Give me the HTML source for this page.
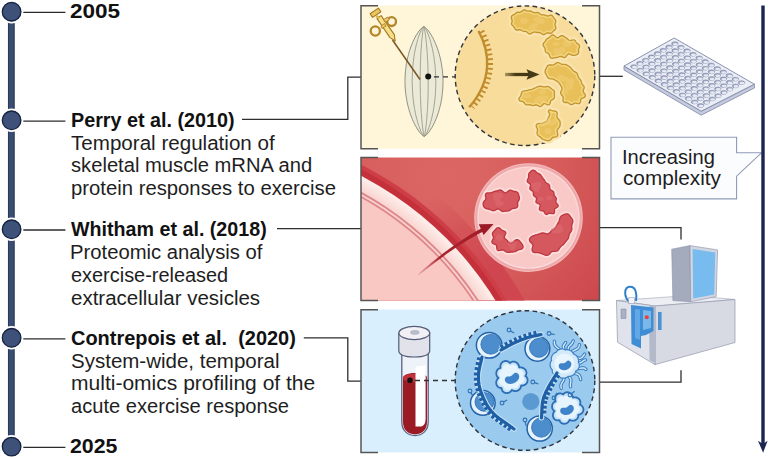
<!DOCTYPE html>
<html><head><meta charset="utf-8">
<style>
html,body{margin:0;padding:0;background:#fff;}
body{width:768px;height:459px;position:relative;overflow:hidden;font-family:"Liberation Sans",sans-serif;color:#1a1a1a;}
svg{position:absolute;left:0;top:0;}
.t{position:absolute;white-space:pre;transform-origin:0 0;font-size:19px;line-height:19px;color:#1e1e1e;}
.b{font-weight:bold;font-size:19.4px;color:#111;}
</style></head>
<body>
<svg width="768" height="459" viewBox="0 0 768 459">
<defs>
  <clipPath id="cpR"><rect x="361" y="157.5" width="238.5" height="143"/></clipPath>
  <clipPath id="cpB"><rect x="361" y="309.5" width="238.5" height="143"/></clipPath>
  <linearGradient id="gRed" x1="0" y1="0" x2="1" y2="0.3">
    <stop offset="0" stop-color="#dc6a6d"/>
    <stop offset="0.55" stop-color="#d85f64"/>
    <stop offset="1" stop-color="#c9424b"/>
  </linearGradient>
  <radialGradient id="gRedBg" gradientUnits="userSpaceOnUse" cx="450" cy="175" r="200">
    <stop offset="0" stop-color="#db6764"/>
    <stop offset="0.5" stop-color="#d75e5d"/>
    <stop offset="1" stop-color="#cc464b"/>
  </radialGradient>
  <linearGradient id="gRedHalo2" gradientUnits="userSpaceOnUse" x1="430" y1="200" x2="490" y2="270">
    <stop offset="0" stop-color="#cf4650" stop-opacity="0"/>
    <stop offset="1" stop-color="#cf4650" stop-opacity="1"/>
  </linearGradient>
  <radialGradient id="gLightBand" gradientUnits="userSpaceOnUse" cx="203.5" cy="480.2" r="342.8">
    <stop offset="0.959" stop-color="#f9d4d0"/>
    <stop offset="0.985" stop-color="#fce6e2"/>
    <stop offset="1" stop-color="#fdf0ec"/>
  </radialGradient>
  <radialGradient id="gRedHalo" gradientUnits="userSpaceOnUse" cx="203.5" cy="480.2" r="420">
    <stop offset="0.83" stop-color="#cc4049"/>
    <stop offset="0.9" stop-color="#d6585f" stop-opacity="0.9"/>
    <stop offset="1" stop-color="#dc666b" stop-opacity="0"/>
  </radialGradient>
  <linearGradient id="gArrowY" gradientUnits="userSpaceOnUse" x1="505" y1="0" x2="530" y2="0">
    <stop offset="0" stop-color="#6a5a2a" stop-opacity="0.55"/>
    <stop offset="0.4" stop-color="#4a3d18"/>
    <stop offset="1" stop-color="#3f3414"/>
  </linearGradient>
  <linearGradient id="gArrowR" gradientUnits="userSpaceOnUse" x1="417" y1="276" x2="485" y2="228">
    <stop offset="0" stop-color="#c0434b" stop-opacity="0.2"/>
    <stop offset="0.35" stop-color="#a9242e"/>
    <stop offset="1" stop-color="#a01d28"/>
  </linearGradient>
</defs>

<!-- ===== timeline ===== -->
<g id="timeline">
  <rect x="8.4" y="14" width="5.8" height="430" fill="#3a4e75" stroke="#1c2a4a" stroke-width="0.9"/>
  <g fill="#3e5279" stroke="#fff" stroke-width="2.2">
    <circle cx="11.6" cy="11.7" r="10.6"/>
    <circle cx="11.6" cy="120.3" r="10.6"/>
    <circle cx="11.6" cy="229.3" r="10.6"/>
    <circle cx="11.6" cy="337.8" r="10.6"/>
    <circle cx="11.6" cy="446.6" r="10.6"/>
  </g>
  <g fill="none" stroke="#16223f" stroke-width="1.3">
    <circle cx="11.6" cy="11.7" r="9.3"/>
    <circle cx="11.6" cy="120.3" r="9.3"/>
    <circle cx="11.6" cy="229.3" r="9.3"/>
    <circle cx="11.6" cy="337.8" r="9.3"/>
    <circle cx="11.6" cy="446.6" r="9.3"/>
  </g>
  <g stroke="#2b2b2b" stroke-width="1.3">
    <line x1="23.3" y1="12.4" x2="65.4" y2="12.4"/>
    <line x1="23.3" y1="121.2" x2="65.4" y2="121.2"/>
    <line x1="23.3" y1="230" x2="65.4" y2="230"/>
    <line x1="23.3" y1="338.8" x2="65.4" y2="338.8"/>
    <line x1="23.3" y1="447.3" x2="65.4" y2="447.3"/>
  </g>
</g>

<!-- ===== connectors ===== -->
<g fill="none" stroke="#2e2e2e" stroke-width="1.3">
  <polyline points="242,119.4 347.8,119.4 347.8,77.2 361,77.2"/>
  <polyline points="277,228.7 361,228.7"/>
  <polyline points="303.8,337.9 347.8,337.9 347.8,381.2 361,381.2"/>
  <polyline points="599.5,76.3 622.8,76.3"/>
  <polyline points="599.5,227.6 681,227.6 681,239.5"/>
  <polyline points="599.5,382.2 681,382.2 681,370.3"/>
</g>

<!-- ===== panel backgrounds ===== -->
<rect x="361" y="5.5" width="238.5" height="143.2" fill="#fff5d9"/>
<rect x="361" y="157.5" width="238.5" height="143" fill="url(#gRedBg)"/>
<rect x="361" y="309.5" width="238.5" height="143" fill="#d9effd"/>

<!-- ===== RED panel content ===== -->
<g clip-path="url(#cpR)">
  <circle cx="203.5" cy="480.2" r="368" fill="url(#gRedHalo2)"/>
  <circle cx="203.5" cy="480.2" r="352.5" fill="#ce3e47"/>
  <circle cx="203.5" cy="480.2" r="348.5" fill="#c4313b"/>
  <circle cx="203.5" cy="480.2" r="342.8" fill="url(#gLightBand)"/>
  <circle cx="203.5" cy="480.2" r="328.8" fill="#de878a"/>
  <circle cx="203.5" cy="480.2" r="327.0" fill="#f9d2ce"/>
  <circle cx="203.5" cy="480.2" r="325.2" fill="#de878a"/>
  <circle cx="203.5" cy="480.2" r="323.4" fill="#f9c8c3"/>
  <!-- vesicle circle -->
  <circle cx="528.5" cy="217.6" r="54.3" fill="#f4bcbd"/>
  <circle cx="528.5" cy="217.6" r="53.3" fill="#efa8aa"/>
  <circle cx="528.5" cy="217.6" r="51.2" fill="#fad8d8"/>
  <circle cx="528.5" cy="217.6" r="49.8" fill="#f8c9c7"/>
  <!-- blobs -->
  <!--RB--><g fill="none" stroke="#fcdedb" stroke-width="5" stroke-linejoin="round">
<path d="M483.2,202.9 L483.9,201.5 L485.1,200.1 L485.9,198.8 L485.8,197.3 L485.3,195.6 L485.7,193.8 L487.2,192.9 L488.9,192.9 L490.5,192.9 L492.0,192.5 L493.3,191.8 L494.7,191.3 L496.2,191.0 L497.6,190.7 L499.1,190.1 L500.7,190.0 L502.1,190.7 L503.3,191.9 L504.8,192.8 L506.4,192.6 L507.8,191.4 L509.0,190.4 L510.5,190.1 L512.1,190.6 L513.5,191.3 L514.9,191.5 L516.4,191.7 L517.7,192.5 L518.4,193.9 L518.8,195.3 L519.3,196.7 L519.5,198.3 L519.1,199.8 L518.3,201.1 L517.6,202.5 L517.6,204.0 L517.8,205.7 L517.2,207.3 L515.7,208.1 L514.0,208.3 L512.5,208.5 L511.3,209.3 L510.0,210.3 L508.6,210.8 L507.1,211.0 L505.6,211.1 L504.1,211.4 L502.6,211.5 L501.1,210.8 L499.9,209.7 L498.5,208.9 L496.9,209.1 L495.3,210.1 L494.0,210.8 L492.5,210.7 L490.9,210.0 L489.5,209.3 L488.2,209.0 L486.7,208.8 L485.3,208.2 L484.2,207.3 L483.4,206.0 L483.1,204.4Z"/>
<path d="M528.6,177.1 L528.6,175.6 L528.7,174.1 L529.4,172.8 L530.5,171.7 L531.6,170.7 L533.1,170.2 L534.7,170.6 L535.9,171.7 L536.9,172.8 L538.2,173.4 L539.6,174.1 L540.8,175.0 L541.6,176.3 L542.4,177.6 L543.4,178.8 L544.3,180.0 L545.0,181.3 L545.8,182.6 L547.1,183.5 L548.6,184.2 L549.5,185.4 L549.7,187.1 L549.8,188.8 L550.8,190.0 L552.3,190.8 L553.6,191.8 L554.0,193.3 L554.1,194.9 L554.8,196.2 L555.9,197.4 L556.4,198.8 L556.0,200.5 L555.8,202.0 L556.7,203.4 L558.0,204.9 L558.1,206.5 L556.5,207.8 L554.8,208.7 L554.4,209.9 L554.6,212.0 L553.8,213.6 L552.0,213.7 L550.2,213.1 L548.9,213.3 L547.4,214.3 L545.8,214.3 L544.7,212.9 L544.0,211.4 L542.6,210.9 L540.5,210.6 L539.3,209.5 L539.6,207.6 L540.3,205.5 L539.6,204.2 L537.6,203.5 L536.0,202.5 L536.0,200.9 L536.6,199.0 L536.3,197.5 L534.8,196.6 L533.6,195.5 L533.3,194.0 L533.4,192.3 L532.5,191.0 L530.9,190.1 L529.8,189.0 L530.0,187.2 L530.6,185.4 L530.2,184.0 L528.7,182.9 L527.3,181.7 L527.3,180.1 L528.1,178.5Z"/>
<path d="M492.3,233.9 L492.7,232.4 L493.9,231.2 L494.9,230.3 L495.6,229.2 L496.8,228.1 L498.4,227.6 L499.9,228.2 L501.1,229.5 L502.2,230.4 L503.6,230.8 L505.2,231.5 L505.9,233.0 L505.3,234.6 L504.5,236.0 L504.3,237.6 L505.3,239.0 L506.6,239.9 L507.5,240.8 L508.4,242.0 L509.8,242.9 L511.4,243.1 L512.9,242.4 L514.1,241.3 L515.2,240.2 L516.7,239.6 L518.3,239.8 L519.5,240.9 L520.4,242.0 L521.2,243.0 L522.1,244.1 L522.9,245.5 L523.1,247.2 L522.3,248.7 L520.7,249.4 L519.1,249.6 L517.7,250.1 L516.5,250.9 L515.1,251.6 L513.7,251.9 L512.2,252.0 L510.7,252.0 L509.2,252.3 L507.6,252.4 L506.2,252.0 L504.8,250.9 L503.6,250.0 L502.1,249.9 L500.3,250.4 L498.4,250.7 L497.1,249.7 L496.7,247.7 L496.6,245.8 L495.9,244.7 L494.2,244.1 L492.4,243.2 L491.8,241.7 L492.4,240.0 L493.3,238.5 L493.4,237.0 L492.8,235.5Z"/>
<path d="M532.2,243.7 L530.8,242.5 L529.7,241.1 L529.4,239.3 L530.2,237.7 L531.6,236.6 L533.0,235.9 L534.4,235.4 L535.7,234.9 L537.0,234.6 L538.4,234.2 L539.9,233.7 L541.4,233.1 L542.8,232.9 L544.3,233.2 L546.0,233.8 L547.6,234.0 L549.1,233.3 L550.2,232.1 L551.2,230.9 L552.4,230.0 L553.7,229.2 L554.9,228.3 L555.8,227.1 L556.5,225.8 L557.2,224.5 L558.0,223.1 L558.8,221.8 L559.3,220.5 L559.6,219.0 L560.1,217.5 L561.0,216.2 L562.3,215.3 L563.8,214.7 L565.1,214.2 L566.5,213.8 L568.0,213.9 L569.2,214.9 L570.1,216.1 L570.9,217.3 L571.9,218.5 L572.7,219.9 L572.9,221.4 L572.5,223.0 L572.0,224.4 L571.7,225.9 L571.7,227.4 L571.9,229.0 L571.6,230.5 L570.8,231.9 L569.9,233.1 L569.2,234.5 L568.9,235.9 L568.6,237.5 L568.0,238.9 L567.0,240.1 L566.0,241.2 L565.1,242.4 L564.2,243.6 L563.2,244.7 L562.0,245.6 L560.8,246.6 L559.8,247.7 L559.0,249.2 L558.1,250.5 L556.7,251.2 L555.0,251.3 L553.2,251.3 L551.8,251.6 L550.7,252.6 L549.6,254.0 L548.2,255.1 L546.7,255.4 L545.1,255.1 L543.6,254.5 L542.1,253.9 L540.7,253.3 L539.3,252.9 L537.9,252.6 L536.3,252.6 L534.5,252.6 L532.8,251.8 L532.0,250.3 L532.2,248.4 L532.8,246.6 L532.9,245.0Z"/>
</g>
<g fill="#d6585f" stroke="#bf3640" stroke-width="1.3" stroke-linejoin="round">
<path d="M483.2,202.9 L483.9,201.5 L485.1,200.1 L485.9,198.8 L485.8,197.3 L485.3,195.6 L485.7,193.8 L487.2,192.9 L488.9,192.9 L490.5,192.9 L492.0,192.5 L493.3,191.8 L494.7,191.3 L496.2,191.0 L497.6,190.7 L499.1,190.1 L500.7,190.0 L502.1,190.7 L503.3,191.9 L504.8,192.8 L506.4,192.6 L507.8,191.4 L509.0,190.4 L510.5,190.1 L512.1,190.6 L513.5,191.3 L514.9,191.5 L516.4,191.7 L517.7,192.5 L518.4,193.9 L518.8,195.3 L519.3,196.7 L519.5,198.3 L519.1,199.8 L518.3,201.1 L517.6,202.5 L517.6,204.0 L517.8,205.7 L517.2,207.3 L515.7,208.1 L514.0,208.3 L512.5,208.5 L511.3,209.3 L510.0,210.3 L508.6,210.8 L507.1,211.0 L505.6,211.1 L504.1,211.4 L502.6,211.5 L501.1,210.8 L499.9,209.7 L498.5,208.9 L496.9,209.1 L495.3,210.1 L494.0,210.8 L492.5,210.7 L490.9,210.0 L489.5,209.3 L488.2,209.0 L486.7,208.8 L485.3,208.2 L484.2,207.3 L483.4,206.0 L483.1,204.4Z"/>
<path d="M528.6,177.1 L528.6,175.6 L528.7,174.1 L529.4,172.8 L530.5,171.7 L531.6,170.7 L533.1,170.2 L534.7,170.6 L535.9,171.7 L536.9,172.8 L538.2,173.4 L539.6,174.1 L540.8,175.0 L541.6,176.3 L542.4,177.6 L543.4,178.8 L544.3,180.0 L545.0,181.3 L545.8,182.6 L547.1,183.5 L548.6,184.2 L549.5,185.4 L549.7,187.1 L549.8,188.8 L550.8,190.0 L552.3,190.8 L553.6,191.8 L554.0,193.3 L554.1,194.9 L554.8,196.2 L555.9,197.4 L556.4,198.8 L556.0,200.5 L555.8,202.0 L556.7,203.4 L558.0,204.9 L558.1,206.5 L556.5,207.8 L554.8,208.7 L554.4,209.9 L554.6,212.0 L553.8,213.6 L552.0,213.7 L550.2,213.1 L548.9,213.3 L547.4,214.3 L545.8,214.3 L544.7,212.9 L544.0,211.4 L542.6,210.9 L540.5,210.6 L539.3,209.5 L539.6,207.6 L540.3,205.5 L539.6,204.2 L537.6,203.5 L536.0,202.5 L536.0,200.9 L536.6,199.0 L536.3,197.5 L534.8,196.6 L533.6,195.5 L533.3,194.0 L533.4,192.3 L532.5,191.0 L530.9,190.1 L529.8,189.0 L530.0,187.2 L530.6,185.4 L530.2,184.0 L528.7,182.9 L527.3,181.7 L527.3,180.1 L528.1,178.5Z"/>
<path d="M492.3,233.9 L492.7,232.4 L493.9,231.2 L494.9,230.3 L495.6,229.2 L496.8,228.1 L498.4,227.6 L499.9,228.2 L501.1,229.5 L502.2,230.4 L503.6,230.8 L505.2,231.5 L505.9,233.0 L505.3,234.6 L504.5,236.0 L504.3,237.6 L505.3,239.0 L506.6,239.9 L507.5,240.8 L508.4,242.0 L509.8,242.9 L511.4,243.1 L512.9,242.4 L514.1,241.3 L515.2,240.2 L516.7,239.6 L518.3,239.8 L519.5,240.9 L520.4,242.0 L521.2,243.0 L522.1,244.1 L522.9,245.5 L523.1,247.2 L522.3,248.7 L520.7,249.4 L519.1,249.6 L517.7,250.1 L516.5,250.9 L515.1,251.6 L513.7,251.9 L512.2,252.0 L510.7,252.0 L509.2,252.3 L507.6,252.4 L506.2,252.0 L504.8,250.9 L503.6,250.0 L502.1,249.9 L500.3,250.4 L498.4,250.7 L497.1,249.7 L496.7,247.7 L496.6,245.8 L495.9,244.7 L494.2,244.1 L492.4,243.2 L491.8,241.7 L492.4,240.0 L493.3,238.5 L493.4,237.0 L492.8,235.5Z"/>
<path d="M532.2,243.7 L530.8,242.5 L529.7,241.1 L529.4,239.3 L530.2,237.7 L531.6,236.6 L533.0,235.9 L534.4,235.4 L535.7,234.9 L537.0,234.6 L538.4,234.2 L539.9,233.7 L541.4,233.1 L542.8,232.9 L544.3,233.2 L546.0,233.8 L547.6,234.0 L549.1,233.3 L550.2,232.1 L551.2,230.9 L552.4,230.0 L553.7,229.2 L554.9,228.3 L555.8,227.1 L556.5,225.8 L557.2,224.5 L558.0,223.1 L558.8,221.8 L559.3,220.5 L559.6,219.0 L560.1,217.5 L561.0,216.2 L562.3,215.3 L563.8,214.7 L565.1,214.2 L566.5,213.8 L568.0,213.9 L569.2,214.9 L570.1,216.1 L570.9,217.3 L571.9,218.5 L572.7,219.9 L572.9,221.4 L572.5,223.0 L572.0,224.4 L571.7,225.9 L571.7,227.4 L571.9,229.0 L571.6,230.5 L570.8,231.9 L569.9,233.1 L569.2,234.5 L568.9,235.9 L568.6,237.5 L568.0,238.9 L567.0,240.1 L566.0,241.2 L565.1,242.4 L564.2,243.6 L563.2,244.7 L562.0,245.6 L560.8,246.6 L559.8,247.7 L559.0,249.2 L558.1,250.5 L556.7,251.2 L555.0,251.3 L553.2,251.3 L551.8,251.6 L550.7,252.6 L549.6,254.0 L548.2,255.1 L546.7,255.4 L545.1,255.1 L543.6,254.5 L542.1,253.9 L540.7,253.3 L539.3,252.9 L537.9,252.6 L536.3,252.6 L534.5,252.6 L532.8,251.8 L532.0,250.3 L532.2,248.4 L532.8,246.6 L532.9,245.0Z"/>
</g>
<g fill="#e47880" opacity="0.35"><ellipse cx="499.4" cy="203.6" rx="4.1" ry="2.9"/><ellipse cx="496.9" cy="199.0" rx="3.4" ry="2.7"/><ellipse cx="500.1" cy="195.5" rx="2.7" ry="2.6"/><ellipse cx="497.2" cy="196.9" rx="3.4" ry="2.9"/><ellipse cx="495.8" cy="195.6" rx="3.1" ry="3.0"/><ellipse cx="540.5" cy="199.0" rx="3.1" ry="2.0"/><ellipse cx="538.1" cy="184.7" rx="3.1" ry="3.3"/><ellipse cx="536.1" cy="188.5" rx="3.4" ry="3.2"/><ellipse cx="549.4" cy="198.1" rx="3.2" ry="2.1"/><ellipse cx="535.2" cy="184.9" rx="4.4" ry="2.3"/><ellipse cx="512.2" cy="243.7" rx="4.0" ry="3.1"/><ellipse cx="511.8" cy="243.6" rx="4.2" ry="3.0"/><ellipse cx="499.4" cy="237.4" rx="3.4" ry="3.1"/><ellipse cx="512.5" cy="246.8" rx="2.7" ry="3.3"/><ellipse cx="513.2" cy="244.2" rx="2.8" ry="3.0"/><ellipse cx="554.8" cy="229.6" rx="4.2" ry="2.4"/><ellipse cx="558.6" cy="226.7" rx="3.7" ry="2.3"/><ellipse cx="558.7" cy="229.9" rx="4.0" ry="3.1"/><ellipse cx="554.5" cy="230.4" rx="2.9" ry="3.3"/><ellipse cx="558.6" cy="230.0" rx="4.4" ry="2.9"/></g><!--/RB-->
  <!-- arrow -->
  <path d="M418.7,275.2 L421.1,273.3 L423.5,271.5 L425.8,269.6 L428.2,267.8 L430.5,266.0 L432.8,264.2 L435.1,262.5 L437.4,260.7 L439.7,259.0 L441.9,257.4 L444.2,255.8 L446.4,254.1 L448.7,252.6 L450.9,251.0 L453.1,249.5 L455.3,248.0 L457.5,246.6 L459.7,245.1 L461.9,243.7 L464.1,242.4 L466.3,241.0 L468.4,239.7 L470.6,238.4 L472.7,237.2 L474.9,236.0 L477.0,234.8 L479.1,233.6 L481.2,232.5 L483.4,231.4 L481.6,228.2 L479.5,229.4 L477.4,230.6 L475.3,231.8 L473.2,233.0 L471.0,234.3 L468.9,235.6 L466.8,237.0 L464.6,238.4 L462.4,239.8 L460.3,241.2 L458.1,242.7 L455.9,244.2 L453.7,245.7 L451.5,247.2 L449.3,248.8 L447.1,250.5 L444.9,252.1 L442.7,253.8 L440.5,255.5 L438.3,257.2 L436.0,259.0 L433.8,260.8 L431.5,262.6 L429.3,264.5 L427.0,266.4 L424.8,268.3 L422.5,270.3 L420.3,272.3 L418.1,274.4Z" fill="url(#gArrowR)"/>
  <path d="M493.5,224 L478.8,224.3 L483.6,235 Z" fill="#9c1a25"/>
</g>

<!-- ===== YELLOW panel content ===== -->
<g id="yellow">
  <!-- muscle spindle -->
  <path d="M423.8,26.5 L421.3,28.4 L419.7,30.2 L418.3,32.1 L417.1,34.0 L415.9,35.8 L414.9,37.7 L414.0,39.6 L413.1,41.4 L412.3,43.3 L411.5,45.1 L410.8,47.0 L410.2,48.9 L409.5,50.7 L409.0,52.6 L408.5,54.5 L408.0,56.3 L407.5,58.2 L407.1,60.1 L406.8,61.9 L406.4,63.8 L406.1,65.7 L405.9,67.5 L405.7,69.4 L405.5,71.2 L405.3,73.1 L405.2,75.0 L405.1,76.8 L405.0,78.7 L405.0,80.6 L405.0,82.4 L405.0,84.3 L405.1,86.2 L405.2,88.0 L405.4,89.9 L405.5,91.8 L405.7,93.6 L406.0,95.5 L406.3,97.3 L406.6,99.2 L406.9,101.1 L407.3,102.9 L407.7,104.8 L408.2,106.7 L408.7,108.5 L409.2,110.4 L409.8,112.3 L410.4,114.1 L411.1,116.0 L411.8,117.9 L412.6,119.7 L413.4,121.6 L414.3,123.4 L415.2,125.3 L416.3,127.2 L417.4,129.0 L418.6,130.9 L420.0,132.8 L421.7,134.6 L424.2,136.5 L424.2,136.5 L426.7,134.6 L428.3,132.8 L429.7,130.9 L430.9,129.0 L432.1,127.2 L433.1,125.3 L434.0,123.4 L434.9,121.6 L435.7,119.7 L436.5,117.9 L437.2,116.0 L437.8,114.1 L438.5,112.3 L439.0,110.4 L439.5,108.5 L440.0,106.7 L440.5,104.8 L440.9,102.9 L441.2,101.1 L441.6,99.2 L441.9,97.3 L442.1,95.5 L442.3,93.6 L442.5,91.8 L442.7,89.9 L442.8,88.0 L442.9,86.2 L443.0,84.3 L443.0,82.4 L443.0,80.6 L443.0,78.7 L442.9,76.8 L442.8,75.0 L442.6,73.1 L442.5,71.2 L442.3,69.4 L442.0,67.5 L441.7,65.7 L441.4,63.8 L441.1,61.9 L440.7,60.1 L440.3,58.2 L439.8,56.3 L439.3,54.5 L438.8,52.6 L438.2,50.7 L437.6,48.9 L436.9,47.0 L436.2,45.1 L435.4,43.3 L434.6,41.4 L433.7,39.6 L432.8,37.7 L431.7,35.8 L430.6,34.0 L429.4,32.1 L428.0,30.2 L426.3,28.4 L423.8,26.5Z" fill="#ebe9d8" stroke="#8f8f7c" stroke-width="1"/>
  <path d="M423.8,26.5 L422.3,28.4 L421.2,30.2 L420.4,32.1 L419.6,34.0 L418.9,35.8 L418.3,37.7 L417.7,39.6 L417.2,41.4 L416.7,43.3 L416.2,45.1 L415.8,47.0 L415.4,48.9 L415.0,50.7 L414.6,52.6 L414.3,54.5 L414.0,56.3 L413.8,58.2 L413.5,60.1 L413.3,61.9 L413.1,63.8 L412.9,65.7 L412.7,67.5 L412.6,69.4 L412.5,71.2 L412.4,73.1 L412.3,75.0 L412.3,76.8 L412.2,78.7 L412.2,80.6 L412.2,82.4 L412.3,84.3 L412.3,86.2 L412.4,88.0 L412.5,89.9 L412.6,91.8 L412.7,93.6 L412.8,95.5 L413.0,97.3 L413.2,99.2 L413.4,101.1 L413.7,102.9 L413.9,104.8 L414.2,106.7 L414.5,108.5 L414.9,110.4 L415.2,112.3 L415.6,114.1 L416.0,116.0 L416.5,117.9 L417.0,119.7 L417.5,121.6 L418.0,123.4 L418.6,125.3 L419.3,127.2 L420.0,129.0 L420.7,130.9 L421.6,132.8 L422.6,134.6 L424.2,136.5 M423.8,26.5 L423.3,28.4 L423.0,30.2 L422.7,32.1 L422.5,34.0 L422.3,35.8 L422.1,37.7 L421.9,39.6 L421.7,41.4 L421.5,43.3 L421.4,45.1 L421.3,47.0 L421.1,48.9 L421.0,50.7 L420.9,52.6 L420.8,54.5 L420.7,56.3 L420.6,58.2 L420.6,60.1 L420.5,61.9 L420.4,63.8 L420.4,65.7 L420.3,67.5 L420.3,69.4 L420.3,71.2 L420.2,73.1 L420.2,75.0 L420.2,76.8 L420.2,78.7 L420.2,80.6 L420.2,82.4 L420.2,84.3 L420.2,86.2 L420.3,88.0 L420.3,89.9 L420.3,91.8 L420.4,93.6 L420.4,95.5 L420.5,97.3 L420.6,99.2 L420.6,101.1 L420.7,102.9 L420.8,104.8 L420.9,106.7 L421.0,108.5 L421.1,110.4 L421.2,112.3 L421.4,114.1 L421.5,116.0 L421.7,117.9 L421.8,119.7 L422.0,121.6 L422.2,123.4 L422.4,125.3 L422.6,127.2 L422.8,129.0 L423.1,130.9 L423.4,132.8 L423.7,134.6 L424.2,136.5 M423.8,26.5 L424.4,28.4 L424.7,30.2 L425.0,32.1 L425.3,34.0 L425.6,35.8 L425.8,37.7 L426.0,39.6 L426.2,41.4 L426.4,43.3 L426.6,45.1 L426.7,47.0 L426.9,48.9 L427.0,50.7 L427.2,52.6 L427.3,54.5 L427.4,56.3 L427.5,58.2 L427.6,60.1 L427.7,61.9 L427.8,63.8 L427.9,65.7 L427.9,67.5 L428.0,69.4 L428.0,71.2 L428.1,73.1 L428.1,75.0 L428.1,76.8 L428.2,78.7 L428.2,80.6 L428.2,82.4 L428.2,84.3 L428.2,86.2 L428.2,88.0 L428.1,89.9 L428.1,91.8 L428.1,93.6 L428.0,95.5 L428.0,97.3 L427.9,99.2 L427.8,101.1 L427.8,102.9 L427.7,104.8 L427.6,106.7 L427.5,108.5 L427.4,110.4 L427.3,112.3 L427.1,114.1 L427.0,116.0 L426.8,117.9 L426.7,119.7 L426.5,121.6 L426.3,123.4 L426.1,125.3 L425.9,127.2 L425.7,129.0 L425.4,130.9 L425.1,132.8 L424.7,134.6 L424.2,136.5 M423.8,26.5 L425.4,28.4 L426.4,30.2 L427.3,32.1 L428.0,34.0 L428.7,35.8 L429.4,37.7 L430.0,39.6 L430.5,41.4 L431.0,43.3 L431.5,45.1 L432.0,47.0 L432.4,48.9 L432.8,50.7 L433.1,52.6 L433.5,54.5 L433.8,56.3 L434.1,58.2 L434.3,60.1 L434.6,61.9 L434.8,63.8 L435.0,65.7 L435.2,67.5 L435.3,69.4 L435.4,71.2 L435.5,73.1 L435.6,75.0 L435.7,76.8 L435.7,78.7 L435.8,80.6 L435.8,82.4 L435.8,84.3 L435.7,86.2 L435.7,88.0 L435.6,89.9 L435.5,91.8 L435.4,93.6 L435.3,95.5 L435.1,97.3 L434.9,99.2 L434.7,101.1 L434.5,102.9 L434.2,104.8 L434.0,106.7 L433.7,108.5 L433.4,110.4 L433.0,112.3 L432.6,114.1 L432.2,116.0 L431.8,117.9 L431.3,119.7 L430.8,121.6 L430.3,123.4 L429.7,125.3 L429.1,127.2 L428.4,129.0 L427.6,130.9 L426.8,132.8 L425.7,134.6 L424.2,136.5" fill="none" stroke="#9a9a86" stroke-width="0.9"/>
  <!-- needle -->
  <line x1="392.5" y1="40" x2="420" y2="79.5" stroke="#7a5620" stroke-width="1.5"/>
  <!-- syringe -->
  <g stroke="#a67820" stroke-width="1.1" stroke-linejoin="round">
    <path d="M381.1,15.6 L394.3,34.6 L395.2,41 L390,37.6 L376.9,18.4 Z" fill="#f6de8a"/>
    <circle cx="391.6" cy="21.6" r="4.4" fill="#fbf3dc" stroke="#b38626" stroke-width="2.3"/>
    <circle cx="375.3" cy="31" r="4.6" fill="#fbf3dc" stroke="#b38626" stroke-width="2.3"/>
    <path d="M383.5,19.5 L387.8,17 L389.5,19.5 L385.2,22.3 Z M381,26 L384.5,23.5 L386,26 L382,28.5 Z" fill="#e9c664" stroke-width="0.8"/>
    <path d="M380.9,11.7 L378.4,8.1 L370.1,13.7 L372.6,17.4 Z" fill="#e9c664"/>
    <path d="M376.2,15.6 L379.2,18.1" stroke-width="2.2" stroke="#d8b04a"/>
  </g>
  <!-- dot + dashed -->
  <circle cx="428.2" cy="76.6" r="3" fill="#111"/>
  <line x1="434" y1="76.8" x2="455" y2="76.8" stroke="#333" stroke-width="1.3" stroke-dasharray="5,4"/>
  <!-- circle -->
  <circle cx="525" cy="75.7" r="69.8" fill="#f7dc9c"/>
  <circle cx="525" cy="75.7" r="69.8" fill="none" stroke="#33353b" stroke-width="1.4" stroke-dasharray="4.6,3.4"/>
  <!-- sarcolemma -->
  <path d="M478.5,31 C490,52 493,80 469.2,107.3" fill="none" stroke="#c08c2c" stroke-width="2.4"/>
  <path d="M478.5,31 C490,52 493,80 469.2,107.3" fill="none" stroke="#c08c2c" stroke-width="5" stroke-dasharray="1.9,2.9" transform="translate(3.3,0)"/>
  <!-- arrow -->
  <path d="M505,74.5 L529,74.5" stroke="url(#gArrowY)" stroke-width="3.3"/>
  <path d="M539.5,74.5 L526.5,69.3 L528.8,74.5 L526.5,79.7 Z" fill="#453a18"/>
  <!-- blobs -->
  <!--YB--><g fill="none" stroke="#f9e4b0" stroke-width="6" stroke-linejoin="round">
<path d="M511.8,19.4 L511.2,17.8 L511.5,16.1 L512.9,15.1 L514.3,14.4 L515.4,13.4 L516.6,12.4 L518.1,12.2 L519.7,12.3 L521.0,11.9 L522.4,10.7 L523.9,9.9 L525.4,10.2 L526.9,10.9 L528.4,11.1 L529.9,11.0 L531.4,11.3 L532.7,12.1 L533.9,12.7 L535.6,12.6 L537.3,12.3 L538.7,12.7 L539.9,13.9 L541.3,14.7 L542.8,14.8 L544.3,14.8 L545.7,15.4 L547.1,16.0 L548.7,15.8 L550.4,15.2 L552.0,15.5 L553.1,16.8 L553.9,18.2 L554.9,19.2 L555.7,20.4 L555.7,22.0 L555.1,23.4 L555.0,24.9 L555.6,26.5 L555.9,28.1 L555.2,29.6 L553.8,30.6 L552.8,31.6 L551.8,32.8 L550.4,33.3 L548.8,33.0 L547.4,32.8 L545.9,33.5 L544.4,34.5 L542.8,34.5 L541.4,33.5 L540.1,32.6 L538.6,32.4 L537.1,32.5 L535.5,32.2 L533.9,32.0 L532.6,32.6 L531.1,33.7 L529.4,34.0 L528.0,33.1 L526.8,31.9 L525.4,31.4 L523.8,31.3 L522.4,30.8 L521.1,30.0 L519.6,29.6 L518.0,30.0 L516.2,30.0 L515.0,29.0 L514.2,27.4 L513.4,26.2 L512.2,25.3 L511.5,23.9 L511.8,22.4 L512.2,20.9Z"/>
<path d="M543.8,42.8 L545.0,41.6 L545.8,40.4 L546.5,39.2 L547.6,38.4 L548.9,37.8 L550.1,36.8 L551.4,35.4 L552.9,34.9 L554.6,35.9 L556.2,37.4 L557.6,37.9 L559.1,37.0 L560.7,35.9 L562.3,35.7 L563.8,36.4 L565.1,37.2 L566.4,38.0 L567.6,39.1 L568.9,40.3 L570.3,40.7 L571.9,40.1 L573.8,39.8 L575.1,40.5 L576.0,42.0 L576.9,43.3 L578.2,44.1 L579.4,45.2 L579.6,46.8 L578.9,48.4 L578.5,49.7 L578.7,51.1 L578.6,52.8 L577.7,54.2 L576.2,54.9 L574.6,55.3 L573.1,55.4 L571.5,55.0 L569.9,54.1 L568.4,54.0 L567.0,55.2 L565.7,57.0 L564.4,57.7 L562.9,57.1 L561.1,56.4 L559.5,56.5 L558.2,57.1 L556.9,57.5 L555.4,57.6 L553.9,57.9 L552.1,58.3 L550.6,57.8 L549.6,56.2 L549.2,54.5 L548.3,53.4 L546.7,52.7 L545.5,51.7 L545.1,50.2 L545.1,48.6 L544.4,47.3 L543.3,45.9 L543.0,44.3Z"/>
<path d="M546.4,67.9 L547.1,66.5 L548.2,65.3 L549.7,64.8 L551.4,65.0 L553.0,65.2 L554.3,64.6 L555.7,63.4 L557.1,62.6 L558.7,62.7 L560.2,63.5 L561.6,64.2 L563.0,64.4 L564.5,64.4 L566.1,64.7 L567.4,65.3 L568.7,66.2 L569.9,67.1 L571.0,68.1 L572.0,69.3 L572.9,70.5 L574.1,71.4 L575.5,72.1 L576.8,73.1 L577.6,74.4 L578.0,75.9 L578.5,77.4 L579.4,78.6 L580.4,79.7 L581.1,81.1 L581.5,82.5 L582.0,83.9 L583.0,85.1 L584.0,86.4 L584.2,88.0 L583.5,89.6 L583.0,91.2 L583.6,92.5 L584.9,94.1 L585.5,95.8 L584.5,97.3 L582.5,98.1 L581.1,98.7 L580.7,100.2 L580.5,102.2 L579.5,103.6 L577.7,103.6 L575.9,103.1 L574.5,103.1 L573.1,104.1 L571.6,104.7 L570.1,104.3 L568.8,103.2 L567.5,102.5 L565.9,102.5 L564.1,102.3 L563.0,101.0 L563.0,99.1 L563.3,97.4 L562.8,96.2 L561.6,95.0 L560.6,93.4 L560.7,91.9 L561.5,90.5 L562.1,88.9 L561.8,87.3 L561.0,86.0 L560.2,84.7 L559.4,83.4 L558.5,82.3 L557.4,81.4 L556.1,80.7 L554.8,79.9 L553.4,79.2 L552.0,78.8 L550.4,78.8 L548.9,78.4 L547.7,77.4 L546.9,76.0 L546.2,74.7 L545.5,73.4 L545.0,72.0 L545.2,70.5 L545.7,69.2Z"/>
<path d="M520.4,96.4 L521.0,95.2 L521.3,93.7 L521.9,92.1 L523.1,91.2 L524.7,90.8 L526.2,90.7 L527.6,90.3 L529.1,89.9 L530.5,89.6 L532.0,89.3 L533.4,88.7 L534.7,88.1 L536.1,87.5 L537.4,86.8 L538.9,86.3 L540.4,86.1 L541.9,86.3 L543.4,86.8 L544.8,86.9 L546.4,86.7 L547.9,86.5 L549.4,87.0 L550.6,88.0 L551.7,89.0 L552.9,89.7 L554.1,90.7 L554.5,92.2 L554.4,93.7 L554.4,95.2 L554.5,96.8 L554.1,98.3 L552.9,99.4 L551.5,100.1 L550.6,101.2 L550.2,103.0 L549.3,104.6 L547.7,104.9 L545.8,104.0 L544.2,103.5 L542.9,104.4 L541.6,106.0 L540.1,106.6 L538.6,106.0 L537.0,105.1 L535.6,105.0 L534.1,105.4 L532.5,105.6 L531.1,105.1 L529.6,104.7 L528.1,104.8 L526.5,104.8 L525.1,104.1 L524.1,102.7 L523.1,101.6 L521.6,101.3 L519.8,100.9 L518.8,99.4 L519.3,97.7Z"/>
<path d="M550.2,109.9 L551.6,110.5 L553.0,110.9 L554.7,111.0 L556.4,111.6 L557.2,113.0 L557.1,114.9 L556.9,116.7 L557.3,118.0 L558.4,119.2 L559.6,120.5 L560.1,122.0 L560.2,123.5 L560.1,125.1 L559.7,126.6 L558.8,128.0 L557.6,129.2 L557.0,130.5 L557.2,132.1 L557.8,134.1 L557.6,135.9 L556.1,136.8 L554.2,137.1 L552.6,137.5 L551.6,138.5 L550.6,139.8 L549.2,140.6 L547.6,140.6 L546.1,140.3 L544.6,139.9 L543.2,139.5 L541.9,138.6 L540.8,137.6 L539.7,136.6 L538.4,135.7 L537.3,134.6 L537.0,133.0 L537.4,131.3 L537.6,129.9 L537.1,128.5 L536.3,126.8 L536.2,125.1 L537.5,123.8 L539.3,123.4 L540.7,123.6 L542.2,123.5 L543.7,122.8 L545.1,122.2 L546.5,121.6 L547.4,120.4 L547.8,118.9 L548.2,117.6 L549.1,116.3 L549.7,114.7 L549.3,113.2 L548.5,112.0 L548.7,110.4Z"/>
</g>
<g fill="#e8bf58" stroke="none">
<path d="M511.8,19.4 L511.2,17.8 L511.5,16.1 L512.9,15.1 L514.3,14.4 L515.4,13.4 L516.6,12.4 L518.1,12.2 L519.7,12.3 L521.0,11.9 L522.4,10.7 L523.9,9.9 L525.4,10.2 L526.9,10.9 L528.4,11.1 L529.9,11.0 L531.4,11.3 L532.7,12.1 L533.9,12.7 L535.6,12.6 L537.3,12.3 L538.7,12.7 L539.9,13.9 L541.3,14.7 L542.8,14.8 L544.3,14.8 L545.7,15.4 L547.1,16.0 L548.7,15.8 L550.4,15.2 L552.0,15.5 L553.1,16.8 L553.9,18.2 L554.9,19.2 L555.7,20.4 L555.7,22.0 L555.1,23.4 L555.0,24.9 L555.6,26.5 L555.9,28.1 L555.2,29.6 L553.8,30.6 L552.8,31.6 L551.8,32.8 L550.4,33.3 L548.8,33.0 L547.4,32.8 L545.9,33.5 L544.4,34.5 L542.8,34.5 L541.4,33.5 L540.1,32.6 L538.6,32.4 L537.1,32.5 L535.5,32.2 L533.9,32.0 L532.6,32.6 L531.1,33.7 L529.4,34.0 L528.0,33.1 L526.8,31.9 L525.4,31.4 L523.8,31.3 L522.4,30.8 L521.1,30.0 L519.6,29.6 L518.0,30.0 L516.2,30.0 L515.0,29.0 L514.2,27.4 L513.4,26.2 L512.2,25.3 L511.5,23.9 L511.8,22.4 L512.2,20.9Z"/>
<path d="M543.8,42.8 L545.0,41.6 L545.8,40.4 L546.5,39.2 L547.6,38.4 L548.9,37.8 L550.1,36.8 L551.4,35.4 L552.9,34.9 L554.6,35.9 L556.2,37.4 L557.6,37.9 L559.1,37.0 L560.7,35.9 L562.3,35.7 L563.8,36.4 L565.1,37.2 L566.4,38.0 L567.6,39.1 L568.9,40.3 L570.3,40.7 L571.9,40.1 L573.8,39.8 L575.1,40.5 L576.0,42.0 L576.9,43.3 L578.2,44.1 L579.4,45.2 L579.6,46.8 L578.9,48.4 L578.5,49.7 L578.7,51.1 L578.6,52.8 L577.7,54.2 L576.2,54.9 L574.6,55.3 L573.1,55.4 L571.5,55.0 L569.9,54.1 L568.4,54.0 L567.0,55.2 L565.7,57.0 L564.4,57.7 L562.9,57.1 L561.1,56.4 L559.5,56.5 L558.2,57.1 L556.9,57.5 L555.4,57.6 L553.9,57.9 L552.1,58.3 L550.6,57.8 L549.6,56.2 L549.2,54.5 L548.3,53.4 L546.7,52.7 L545.5,51.7 L545.1,50.2 L545.1,48.6 L544.4,47.3 L543.3,45.9 L543.0,44.3Z"/>
<path d="M546.4,67.9 L547.1,66.5 L548.2,65.3 L549.7,64.8 L551.4,65.0 L553.0,65.2 L554.3,64.6 L555.7,63.4 L557.1,62.6 L558.7,62.7 L560.2,63.5 L561.6,64.2 L563.0,64.4 L564.5,64.4 L566.1,64.7 L567.4,65.3 L568.7,66.2 L569.9,67.1 L571.0,68.1 L572.0,69.3 L572.9,70.5 L574.1,71.4 L575.5,72.1 L576.8,73.1 L577.6,74.4 L578.0,75.9 L578.5,77.4 L579.4,78.6 L580.4,79.7 L581.1,81.1 L581.5,82.5 L582.0,83.9 L583.0,85.1 L584.0,86.4 L584.2,88.0 L583.5,89.6 L583.0,91.2 L583.6,92.5 L584.9,94.1 L585.5,95.8 L584.5,97.3 L582.5,98.1 L581.1,98.7 L580.7,100.2 L580.5,102.2 L579.5,103.6 L577.7,103.6 L575.9,103.1 L574.5,103.1 L573.1,104.1 L571.6,104.7 L570.1,104.3 L568.8,103.2 L567.5,102.5 L565.9,102.5 L564.1,102.3 L563.0,101.0 L563.0,99.1 L563.3,97.4 L562.8,96.2 L561.6,95.0 L560.6,93.4 L560.7,91.9 L561.5,90.5 L562.1,88.9 L561.8,87.3 L561.0,86.0 L560.2,84.7 L559.4,83.4 L558.5,82.3 L557.4,81.4 L556.1,80.7 L554.8,79.9 L553.4,79.2 L552.0,78.8 L550.4,78.8 L548.9,78.4 L547.7,77.4 L546.9,76.0 L546.2,74.7 L545.5,73.4 L545.0,72.0 L545.2,70.5 L545.7,69.2Z"/>
<path d="M520.4,96.4 L521.0,95.2 L521.3,93.7 L521.9,92.1 L523.1,91.2 L524.7,90.8 L526.2,90.7 L527.6,90.3 L529.1,89.9 L530.5,89.6 L532.0,89.3 L533.4,88.7 L534.7,88.1 L536.1,87.5 L537.4,86.8 L538.9,86.3 L540.4,86.1 L541.9,86.3 L543.4,86.8 L544.8,86.9 L546.4,86.7 L547.9,86.5 L549.4,87.0 L550.6,88.0 L551.7,89.0 L552.9,89.7 L554.1,90.7 L554.5,92.2 L554.4,93.7 L554.4,95.2 L554.5,96.8 L554.1,98.3 L552.9,99.4 L551.5,100.1 L550.6,101.2 L550.2,103.0 L549.3,104.6 L547.7,104.9 L545.8,104.0 L544.2,103.5 L542.9,104.4 L541.6,106.0 L540.1,106.6 L538.6,106.0 L537.0,105.1 L535.6,105.0 L534.1,105.4 L532.5,105.6 L531.1,105.1 L529.6,104.7 L528.1,104.8 L526.5,104.8 L525.1,104.1 L524.1,102.7 L523.1,101.6 L521.6,101.3 L519.8,100.9 L518.8,99.4 L519.3,97.7Z"/>
<path d="M550.2,109.9 L551.6,110.5 L553.0,110.9 L554.7,111.0 L556.4,111.6 L557.2,113.0 L557.1,114.9 L556.9,116.7 L557.3,118.0 L558.4,119.2 L559.6,120.5 L560.1,122.0 L560.2,123.5 L560.1,125.1 L559.7,126.6 L558.8,128.0 L557.6,129.2 L557.0,130.5 L557.2,132.1 L557.8,134.1 L557.6,135.9 L556.1,136.8 L554.2,137.1 L552.6,137.5 L551.6,138.5 L550.6,139.8 L549.2,140.6 L547.6,140.6 L546.1,140.3 L544.6,139.9 L543.2,139.5 L541.9,138.6 L540.8,137.6 L539.7,136.6 L538.4,135.7 L537.3,134.6 L537.0,133.0 L537.4,131.3 L537.6,129.9 L537.1,128.5 L536.3,126.8 L536.2,125.1 L537.5,123.8 L539.3,123.4 L540.7,123.6 L542.2,123.5 L543.7,122.8 L545.1,122.2 L546.5,121.6 L547.4,120.4 L547.8,118.9 L548.2,117.6 L549.1,116.3 L549.7,114.7 L549.3,113.2 L548.5,112.0 L548.7,110.4Z"/>
</g>
<clipPath id="ybc0"><path d="M511.8,19.4 L511.2,17.8 L511.5,16.1 L512.9,15.1 L514.3,14.4 L515.4,13.4 L516.6,12.4 L518.1,12.2 L519.7,12.3 L521.0,11.9 L522.4,10.7 L523.9,9.9 L525.4,10.2 L526.9,10.9 L528.4,11.1 L529.9,11.0 L531.4,11.3 L532.7,12.1 L533.9,12.7 L535.6,12.6 L537.3,12.3 L538.7,12.7 L539.9,13.9 L541.3,14.7 L542.8,14.8 L544.3,14.8 L545.7,15.4 L547.1,16.0 L548.7,15.8 L550.4,15.2 L552.0,15.5 L553.1,16.8 L553.9,18.2 L554.9,19.2 L555.7,20.4 L555.7,22.0 L555.1,23.4 L555.0,24.9 L555.6,26.5 L555.9,28.1 L555.2,29.6 L553.8,30.6 L552.8,31.6 L551.8,32.8 L550.4,33.3 L548.8,33.0 L547.4,32.8 L545.9,33.5 L544.4,34.5 L542.8,34.5 L541.4,33.5 L540.1,32.6 L538.6,32.4 L537.1,32.5 L535.5,32.2 L533.9,32.0 L532.6,32.6 L531.1,33.7 L529.4,34.0 L528.0,33.1 L526.8,31.9 L525.4,31.4 L523.8,31.3 L522.4,30.8 L521.1,30.0 L519.6,29.6 L518.0,30.0 L516.2,30.0 L515.0,29.0 L514.2,27.4 L513.4,26.2 L512.2,25.3 L511.5,23.9 L511.8,22.4 L512.2,20.9Z"/></clipPath>
<path d="M511.8,19.4 L511.2,17.8 L511.5,16.1 L512.9,15.1 L514.3,14.4 L515.4,13.4 L516.6,12.4 L518.1,12.2 L519.7,12.3 L521.0,11.9 L522.4,10.7 L523.9,9.9 L525.4,10.2 L526.9,10.9 L528.4,11.1 L529.9,11.0 L531.4,11.3 L532.7,12.1 L533.9,12.7 L535.6,12.6 L537.3,12.3 L538.7,12.7 L539.9,13.9 L541.3,14.7 L542.8,14.8 L544.3,14.8 L545.7,15.4 L547.1,16.0 L548.7,15.8 L550.4,15.2 L552.0,15.5 L553.1,16.8 L553.9,18.2 L554.9,19.2 L555.7,20.4 L555.7,22.0 L555.1,23.4 L555.0,24.9 L555.6,26.5 L555.9,28.1 L555.2,29.6 L553.8,30.6 L552.8,31.6 L551.8,32.8 L550.4,33.3 L548.8,33.0 L547.4,32.8 L545.9,33.5 L544.4,34.5 L542.8,34.5 L541.4,33.5 L540.1,32.6 L538.6,32.4 L537.1,32.5 L535.5,32.2 L533.9,32.0 L532.6,32.6 L531.1,33.7 L529.4,34.0 L528.0,33.1 L526.8,31.9 L525.4,31.4 L523.8,31.3 L522.4,30.8 L521.1,30.0 L519.6,29.6 L518.0,30.0 L516.2,30.0 L515.0,29.0 L514.2,27.4 L513.4,26.2 L512.2,25.3 L511.5,23.9 L511.8,22.4 L512.2,20.9Z" fill="none" stroke="#f1d47e" stroke-width="4.5" clip-path="url(#ybc0)"/>
<clipPath id="ybc1"><path d="M543.8,42.8 L545.0,41.6 L545.8,40.4 L546.5,39.2 L547.6,38.4 L548.9,37.8 L550.1,36.8 L551.4,35.4 L552.9,34.9 L554.6,35.9 L556.2,37.4 L557.6,37.9 L559.1,37.0 L560.7,35.9 L562.3,35.7 L563.8,36.4 L565.1,37.2 L566.4,38.0 L567.6,39.1 L568.9,40.3 L570.3,40.7 L571.9,40.1 L573.8,39.8 L575.1,40.5 L576.0,42.0 L576.9,43.3 L578.2,44.1 L579.4,45.2 L579.6,46.8 L578.9,48.4 L578.5,49.7 L578.7,51.1 L578.6,52.8 L577.7,54.2 L576.2,54.9 L574.6,55.3 L573.1,55.4 L571.5,55.0 L569.9,54.1 L568.4,54.0 L567.0,55.2 L565.7,57.0 L564.4,57.7 L562.9,57.1 L561.1,56.4 L559.5,56.5 L558.2,57.1 L556.9,57.5 L555.4,57.6 L553.9,57.9 L552.1,58.3 L550.6,57.8 L549.6,56.2 L549.2,54.5 L548.3,53.4 L546.7,52.7 L545.5,51.7 L545.1,50.2 L545.1,48.6 L544.4,47.3 L543.3,45.9 L543.0,44.3Z"/></clipPath>
<path d="M543.8,42.8 L545.0,41.6 L545.8,40.4 L546.5,39.2 L547.6,38.4 L548.9,37.8 L550.1,36.8 L551.4,35.4 L552.9,34.9 L554.6,35.9 L556.2,37.4 L557.6,37.9 L559.1,37.0 L560.7,35.9 L562.3,35.7 L563.8,36.4 L565.1,37.2 L566.4,38.0 L567.6,39.1 L568.9,40.3 L570.3,40.7 L571.9,40.1 L573.8,39.8 L575.1,40.5 L576.0,42.0 L576.9,43.3 L578.2,44.1 L579.4,45.2 L579.6,46.8 L578.9,48.4 L578.5,49.7 L578.7,51.1 L578.6,52.8 L577.7,54.2 L576.2,54.9 L574.6,55.3 L573.1,55.4 L571.5,55.0 L569.9,54.1 L568.4,54.0 L567.0,55.2 L565.7,57.0 L564.4,57.7 L562.9,57.1 L561.1,56.4 L559.5,56.5 L558.2,57.1 L556.9,57.5 L555.4,57.6 L553.9,57.9 L552.1,58.3 L550.6,57.8 L549.6,56.2 L549.2,54.5 L548.3,53.4 L546.7,52.7 L545.5,51.7 L545.1,50.2 L545.1,48.6 L544.4,47.3 L543.3,45.9 L543.0,44.3Z" fill="none" stroke="#f1d47e" stroke-width="4.5" clip-path="url(#ybc1)"/>
<clipPath id="ybc2"><path d="M546.4,67.9 L547.1,66.5 L548.2,65.3 L549.7,64.8 L551.4,65.0 L553.0,65.2 L554.3,64.6 L555.7,63.4 L557.1,62.6 L558.7,62.7 L560.2,63.5 L561.6,64.2 L563.0,64.4 L564.5,64.4 L566.1,64.7 L567.4,65.3 L568.7,66.2 L569.9,67.1 L571.0,68.1 L572.0,69.3 L572.9,70.5 L574.1,71.4 L575.5,72.1 L576.8,73.1 L577.6,74.4 L578.0,75.9 L578.5,77.4 L579.4,78.6 L580.4,79.7 L581.1,81.1 L581.5,82.5 L582.0,83.9 L583.0,85.1 L584.0,86.4 L584.2,88.0 L583.5,89.6 L583.0,91.2 L583.6,92.5 L584.9,94.1 L585.5,95.8 L584.5,97.3 L582.5,98.1 L581.1,98.7 L580.7,100.2 L580.5,102.2 L579.5,103.6 L577.7,103.6 L575.9,103.1 L574.5,103.1 L573.1,104.1 L571.6,104.7 L570.1,104.3 L568.8,103.2 L567.5,102.5 L565.9,102.5 L564.1,102.3 L563.0,101.0 L563.0,99.1 L563.3,97.4 L562.8,96.2 L561.6,95.0 L560.6,93.4 L560.7,91.9 L561.5,90.5 L562.1,88.9 L561.8,87.3 L561.0,86.0 L560.2,84.7 L559.4,83.4 L558.5,82.3 L557.4,81.4 L556.1,80.7 L554.8,79.9 L553.4,79.2 L552.0,78.8 L550.4,78.8 L548.9,78.4 L547.7,77.4 L546.9,76.0 L546.2,74.7 L545.5,73.4 L545.0,72.0 L545.2,70.5 L545.7,69.2Z"/></clipPath>
<path d="M546.4,67.9 L547.1,66.5 L548.2,65.3 L549.7,64.8 L551.4,65.0 L553.0,65.2 L554.3,64.6 L555.7,63.4 L557.1,62.6 L558.7,62.7 L560.2,63.5 L561.6,64.2 L563.0,64.4 L564.5,64.4 L566.1,64.7 L567.4,65.3 L568.7,66.2 L569.9,67.1 L571.0,68.1 L572.0,69.3 L572.9,70.5 L574.1,71.4 L575.5,72.1 L576.8,73.1 L577.6,74.4 L578.0,75.9 L578.5,77.4 L579.4,78.6 L580.4,79.7 L581.1,81.1 L581.5,82.5 L582.0,83.9 L583.0,85.1 L584.0,86.4 L584.2,88.0 L583.5,89.6 L583.0,91.2 L583.6,92.5 L584.9,94.1 L585.5,95.8 L584.5,97.3 L582.5,98.1 L581.1,98.7 L580.7,100.2 L580.5,102.2 L579.5,103.6 L577.7,103.6 L575.9,103.1 L574.5,103.1 L573.1,104.1 L571.6,104.7 L570.1,104.3 L568.8,103.2 L567.5,102.5 L565.9,102.5 L564.1,102.3 L563.0,101.0 L563.0,99.1 L563.3,97.4 L562.8,96.2 L561.6,95.0 L560.6,93.4 L560.7,91.9 L561.5,90.5 L562.1,88.9 L561.8,87.3 L561.0,86.0 L560.2,84.7 L559.4,83.4 L558.5,82.3 L557.4,81.4 L556.1,80.7 L554.8,79.9 L553.4,79.2 L552.0,78.8 L550.4,78.8 L548.9,78.4 L547.7,77.4 L546.9,76.0 L546.2,74.7 L545.5,73.4 L545.0,72.0 L545.2,70.5 L545.7,69.2Z" fill="none" stroke="#f1d47e" stroke-width="4.5" clip-path="url(#ybc2)"/>
<clipPath id="ybc3"><path d="M520.4,96.4 L521.0,95.2 L521.3,93.7 L521.9,92.1 L523.1,91.2 L524.7,90.8 L526.2,90.7 L527.6,90.3 L529.1,89.9 L530.5,89.6 L532.0,89.3 L533.4,88.7 L534.7,88.1 L536.1,87.5 L537.4,86.8 L538.9,86.3 L540.4,86.1 L541.9,86.3 L543.4,86.8 L544.8,86.9 L546.4,86.7 L547.9,86.5 L549.4,87.0 L550.6,88.0 L551.7,89.0 L552.9,89.7 L554.1,90.7 L554.5,92.2 L554.4,93.7 L554.4,95.2 L554.5,96.8 L554.1,98.3 L552.9,99.4 L551.5,100.1 L550.6,101.2 L550.2,103.0 L549.3,104.6 L547.7,104.9 L545.8,104.0 L544.2,103.5 L542.9,104.4 L541.6,106.0 L540.1,106.6 L538.6,106.0 L537.0,105.1 L535.6,105.0 L534.1,105.4 L532.5,105.6 L531.1,105.1 L529.6,104.7 L528.1,104.8 L526.5,104.8 L525.1,104.1 L524.1,102.7 L523.1,101.6 L521.6,101.3 L519.8,100.9 L518.8,99.4 L519.3,97.7Z"/></clipPath>
<path d="M520.4,96.4 L521.0,95.2 L521.3,93.7 L521.9,92.1 L523.1,91.2 L524.7,90.8 L526.2,90.7 L527.6,90.3 L529.1,89.9 L530.5,89.6 L532.0,89.3 L533.4,88.7 L534.7,88.1 L536.1,87.5 L537.4,86.8 L538.9,86.3 L540.4,86.1 L541.9,86.3 L543.4,86.8 L544.8,86.9 L546.4,86.7 L547.9,86.5 L549.4,87.0 L550.6,88.0 L551.7,89.0 L552.9,89.7 L554.1,90.7 L554.5,92.2 L554.4,93.7 L554.4,95.2 L554.5,96.8 L554.1,98.3 L552.9,99.4 L551.5,100.1 L550.6,101.2 L550.2,103.0 L549.3,104.6 L547.7,104.9 L545.8,104.0 L544.2,103.5 L542.9,104.4 L541.6,106.0 L540.1,106.6 L538.6,106.0 L537.0,105.1 L535.6,105.0 L534.1,105.4 L532.5,105.6 L531.1,105.1 L529.6,104.7 L528.1,104.8 L526.5,104.8 L525.1,104.1 L524.1,102.7 L523.1,101.6 L521.6,101.3 L519.8,100.9 L518.8,99.4 L519.3,97.7Z" fill="none" stroke="#f1d47e" stroke-width="4.5" clip-path="url(#ybc3)"/>
<clipPath id="ybc4"><path d="M550.2,109.9 L551.6,110.5 L553.0,110.9 L554.7,111.0 L556.4,111.6 L557.2,113.0 L557.1,114.9 L556.9,116.7 L557.3,118.0 L558.4,119.2 L559.6,120.5 L560.1,122.0 L560.2,123.5 L560.1,125.1 L559.7,126.6 L558.8,128.0 L557.6,129.2 L557.0,130.5 L557.2,132.1 L557.8,134.1 L557.6,135.9 L556.1,136.8 L554.2,137.1 L552.6,137.5 L551.6,138.5 L550.6,139.8 L549.2,140.6 L547.6,140.6 L546.1,140.3 L544.6,139.9 L543.2,139.5 L541.9,138.6 L540.8,137.6 L539.7,136.6 L538.4,135.7 L537.3,134.6 L537.0,133.0 L537.4,131.3 L537.6,129.9 L537.1,128.5 L536.3,126.8 L536.2,125.1 L537.5,123.8 L539.3,123.4 L540.7,123.6 L542.2,123.5 L543.7,122.8 L545.1,122.2 L546.5,121.6 L547.4,120.4 L547.8,118.9 L548.2,117.6 L549.1,116.3 L549.7,114.7 L549.3,113.2 L548.5,112.0 L548.7,110.4Z"/></clipPath>
<path d="M550.2,109.9 L551.6,110.5 L553.0,110.9 L554.7,111.0 L556.4,111.6 L557.2,113.0 L557.1,114.9 L556.9,116.7 L557.3,118.0 L558.4,119.2 L559.6,120.5 L560.1,122.0 L560.2,123.5 L560.1,125.1 L559.7,126.6 L558.8,128.0 L557.6,129.2 L557.0,130.5 L557.2,132.1 L557.8,134.1 L557.6,135.9 L556.1,136.8 L554.2,137.1 L552.6,137.5 L551.6,138.5 L550.6,139.8 L549.2,140.6 L547.6,140.6 L546.1,140.3 L544.6,139.9 L543.2,139.5 L541.9,138.6 L540.8,137.6 L539.7,136.6 L538.4,135.7 L537.3,134.6 L537.0,133.0 L537.4,131.3 L537.6,129.9 L537.1,128.5 L536.3,126.8 L536.2,125.1 L537.5,123.8 L539.3,123.4 L540.7,123.6 L542.2,123.5 L543.7,122.8 L545.1,122.2 L546.5,121.6 L547.4,120.4 L547.8,118.9 L548.2,117.6 L549.1,116.3 L549.7,114.7 L549.3,113.2 L548.5,112.0 L548.7,110.4Z" fill="none" stroke="#f1d47e" stroke-width="4.5" clip-path="url(#ybc4)"/>
<g fill="none" stroke="#c4952c" stroke-width="1.3" stroke-linejoin="round">
<path d="M511.8,19.4 L511.2,17.8 L511.5,16.1 L512.9,15.1 L514.3,14.4 L515.4,13.4 L516.6,12.4 L518.1,12.2 L519.7,12.3 L521.0,11.9 L522.4,10.7 L523.9,9.9 L525.4,10.2 L526.9,10.9 L528.4,11.1 L529.9,11.0 L531.4,11.3 L532.7,12.1 L533.9,12.7 L535.6,12.6 L537.3,12.3 L538.7,12.7 L539.9,13.9 L541.3,14.7 L542.8,14.8 L544.3,14.8 L545.7,15.4 L547.1,16.0 L548.7,15.8 L550.4,15.2 L552.0,15.5 L553.1,16.8 L553.9,18.2 L554.9,19.2 L555.7,20.4 L555.7,22.0 L555.1,23.4 L555.0,24.9 L555.6,26.5 L555.9,28.1 L555.2,29.6 L553.8,30.6 L552.8,31.6 L551.8,32.8 L550.4,33.3 L548.8,33.0 L547.4,32.8 L545.9,33.5 L544.4,34.5 L542.8,34.5 L541.4,33.5 L540.1,32.6 L538.6,32.4 L537.1,32.5 L535.5,32.2 L533.9,32.0 L532.6,32.6 L531.1,33.7 L529.4,34.0 L528.0,33.1 L526.8,31.9 L525.4,31.4 L523.8,31.3 L522.4,30.8 L521.1,30.0 L519.6,29.6 L518.0,30.0 L516.2,30.0 L515.0,29.0 L514.2,27.4 L513.4,26.2 L512.2,25.3 L511.5,23.9 L511.8,22.4 L512.2,20.9Z"/>
<path d="M543.8,42.8 L545.0,41.6 L545.8,40.4 L546.5,39.2 L547.6,38.4 L548.9,37.8 L550.1,36.8 L551.4,35.4 L552.9,34.9 L554.6,35.9 L556.2,37.4 L557.6,37.9 L559.1,37.0 L560.7,35.9 L562.3,35.7 L563.8,36.4 L565.1,37.2 L566.4,38.0 L567.6,39.1 L568.9,40.3 L570.3,40.7 L571.9,40.1 L573.8,39.8 L575.1,40.5 L576.0,42.0 L576.9,43.3 L578.2,44.1 L579.4,45.2 L579.6,46.8 L578.9,48.4 L578.5,49.7 L578.7,51.1 L578.6,52.8 L577.7,54.2 L576.2,54.9 L574.6,55.3 L573.1,55.4 L571.5,55.0 L569.9,54.1 L568.4,54.0 L567.0,55.2 L565.7,57.0 L564.4,57.7 L562.9,57.1 L561.1,56.4 L559.5,56.5 L558.2,57.1 L556.9,57.5 L555.4,57.6 L553.9,57.9 L552.1,58.3 L550.6,57.8 L549.6,56.2 L549.2,54.5 L548.3,53.4 L546.7,52.7 L545.5,51.7 L545.1,50.2 L545.1,48.6 L544.4,47.3 L543.3,45.9 L543.0,44.3Z"/>
<path d="M546.4,67.9 L547.1,66.5 L548.2,65.3 L549.7,64.8 L551.4,65.0 L553.0,65.2 L554.3,64.6 L555.7,63.4 L557.1,62.6 L558.7,62.7 L560.2,63.5 L561.6,64.2 L563.0,64.4 L564.5,64.4 L566.1,64.7 L567.4,65.3 L568.7,66.2 L569.9,67.1 L571.0,68.1 L572.0,69.3 L572.9,70.5 L574.1,71.4 L575.5,72.1 L576.8,73.1 L577.6,74.4 L578.0,75.9 L578.5,77.4 L579.4,78.6 L580.4,79.7 L581.1,81.1 L581.5,82.5 L582.0,83.9 L583.0,85.1 L584.0,86.4 L584.2,88.0 L583.5,89.6 L583.0,91.2 L583.6,92.5 L584.9,94.1 L585.5,95.8 L584.5,97.3 L582.5,98.1 L581.1,98.7 L580.7,100.2 L580.5,102.2 L579.5,103.6 L577.7,103.6 L575.9,103.1 L574.5,103.1 L573.1,104.1 L571.6,104.7 L570.1,104.3 L568.8,103.2 L567.5,102.5 L565.9,102.5 L564.1,102.3 L563.0,101.0 L563.0,99.1 L563.3,97.4 L562.8,96.2 L561.6,95.0 L560.6,93.4 L560.7,91.9 L561.5,90.5 L562.1,88.9 L561.8,87.3 L561.0,86.0 L560.2,84.7 L559.4,83.4 L558.5,82.3 L557.4,81.4 L556.1,80.7 L554.8,79.9 L553.4,79.2 L552.0,78.8 L550.4,78.8 L548.9,78.4 L547.7,77.4 L546.9,76.0 L546.2,74.7 L545.5,73.4 L545.0,72.0 L545.2,70.5 L545.7,69.2Z"/>
<path d="M520.4,96.4 L521.0,95.2 L521.3,93.7 L521.9,92.1 L523.1,91.2 L524.7,90.8 L526.2,90.7 L527.6,90.3 L529.1,89.9 L530.5,89.6 L532.0,89.3 L533.4,88.7 L534.7,88.1 L536.1,87.5 L537.4,86.8 L538.9,86.3 L540.4,86.1 L541.9,86.3 L543.4,86.8 L544.8,86.9 L546.4,86.7 L547.9,86.5 L549.4,87.0 L550.6,88.0 L551.7,89.0 L552.9,89.7 L554.1,90.7 L554.5,92.2 L554.4,93.7 L554.4,95.2 L554.5,96.8 L554.1,98.3 L552.9,99.4 L551.5,100.1 L550.6,101.2 L550.2,103.0 L549.3,104.6 L547.7,104.9 L545.8,104.0 L544.2,103.5 L542.9,104.4 L541.6,106.0 L540.1,106.6 L538.6,106.0 L537.0,105.1 L535.6,105.0 L534.1,105.4 L532.5,105.6 L531.1,105.1 L529.6,104.7 L528.1,104.8 L526.5,104.8 L525.1,104.1 L524.1,102.7 L523.1,101.6 L521.6,101.3 L519.8,100.9 L518.8,99.4 L519.3,97.7Z"/>
<path d="M550.2,109.9 L551.6,110.5 L553.0,110.9 L554.7,111.0 L556.4,111.6 L557.2,113.0 L557.1,114.9 L556.9,116.7 L557.3,118.0 L558.4,119.2 L559.6,120.5 L560.1,122.0 L560.2,123.5 L560.1,125.1 L559.7,126.6 L558.8,128.0 L557.6,129.2 L557.0,130.5 L557.2,132.1 L557.8,134.1 L557.6,135.9 L556.1,136.8 L554.2,137.1 L552.6,137.5 L551.6,138.5 L550.6,139.8 L549.2,140.6 L547.6,140.6 L546.1,140.3 L544.6,139.9 L543.2,139.5 L541.9,138.6 L540.8,137.6 L539.7,136.6 L538.4,135.7 L537.3,134.6 L537.0,133.0 L537.4,131.3 L537.6,129.9 L537.1,128.5 L536.3,126.8 L536.2,125.1 L537.5,123.8 L539.3,123.4 L540.7,123.6 L542.2,123.5 L543.7,122.8 L545.1,122.2 L546.5,121.6 L547.4,120.4 L547.8,118.9 L548.2,117.6 L549.1,116.3 L549.7,114.7 L549.3,113.2 L548.5,112.0 L548.7,110.4Z"/>
</g>
<g fill="#f2d27f" opacity="0.4"><ellipse cx="534.6" cy="25.3" rx="3.9" ry="2.5"/><ellipse cx="537.1" cy="19.6" rx="4.0" ry="2.7"/><ellipse cx="524.4" cy="21.0" rx="2.8" ry="2.7"/><ellipse cx="532.1" cy="28.2" rx="3.6" ry="3.4"/><ellipse cx="540.6" cy="21.2" rx="4.0" ry="3.0"/><ellipse cx="524.0" cy="21.0" rx="3.8" ry="3.3"/><ellipse cx="556.7" cy="51.1" rx="3.6" ry="3.0"/><ellipse cx="561.9" cy="50.0" rx="3.8" ry="2.9"/><ellipse cx="565.7" cy="44.4" rx="2.6" ry="2.8"/><ellipse cx="559.0" cy="53.0" rx="3.8" ry="3.0"/><ellipse cx="556.1" cy="44.1" rx="3.9" ry="2.1"/><ellipse cx="567.5" cy="43.4" rx="4.3" ry="3.4"/><ellipse cx="569.2" cy="84.7" rx="4.3" ry="2.6"/><ellipse cx="560.6" cy="77.2" rx="3.3" ry="3.0"/><ellipse cx="570.4" cy="81.2" rx="3.8" ry="3.1"/><ellipse cx="564.1" cy="78.9" rx="4.1" ry="2.7"/><ellipse cx="565.4" cy="91.5" rx="3.1" ry="3.3"/><ellipse cx="569.5" cy="87.5" rx="3.6" ry="2.3"/><ellipse cx="527.3" cy="96.1" rx="4.3" ry="2.2"/><ellipse cx="544.2" cy="97.5" rx="4.3" ry="2.3"/><ellipse cx="541.9" cy="100.0" rx="4.0" ry="2.7"/><ellipse cx="542.5" cy="92.1" rx="3.8" ry="2.5"/><ellipse cx="537.1" cy="100.2" rx="3.9" ry="2.8"/><ellipse cx="540.3" cy="98.7" rx="3.4" ry="3.4"/><ellipse cx="548.3" cy="120.9" rx="2.5" ry="3.3"/><ellipse cx="554.7" cy="121.5" rx="3.0" ry="2.4"/><ellipse cx="547.9" cy="131.2" rx="3.5" ry="3.2"/><ellipse cx="551.4" cy="122.8" rx="4.3" ry="2.7"/><ellipse cx="543.2" cy="123.9" rx="4.3" ry="2.7"/><ellipse cx="547.9" cy="122.6" rx="3.6" ry="2.3"/></g><!--/YB-->
</g>

<!-- ===== BLUE panel content ===== -->
<g id="blue">
  <!-- test tube -->
  <path d="M401.8,352 L401.8,422 C401.8,431 408,435.5 415,435.5 C422,435.5 428.2,431 428.2,422 L428.2,352 Z" fill="#eef3fa" stroke="#5a6381" stroke-width="1.3"/>
  <path d="M403,378 L403,422 C403,430 408,434.2 415,434.2 C422,434.2 427,430 427,422 L427,378 C427,374.5 421,373 415,373 C409,373 403,374.5 403,378 Z" fill="#9b1b24"/>
  <ellipse cx="415" cy="378" rx="12" ry="4.3" fill="#c2323c"/>
  <path d="M415.5,366.5 L425.6,365.5 L425.6,419 C425.6,423 424,425.5 421.5,426.5 L415.5,426.5 Z" fill="#ffffff"/>
  <path d="M398.8,333 L398.8,350.5 C398.8,355 406,357 414.3,357 C422.6,357 429.7,355 429.7,350.5 L429.7,333 Z" fill="#e2e3ea" stroke="#535c79" stroke-width="1.2"/>
  <ellipse cx="414.3" cy="333" rx="15.4" ry="6.6" fill="#f1f1f5" stroke="#535c79" stroke-width="1.2"/>
  <ellipse cx="414.8" cy="332.4" rx="4.6" ry="2.4" fill="#b9bcc8"/>
  <circle cx="410" cy="380.3" r="2.8" fill="#111"/>
  <line x1="415" y1="380.5" x2="455" y2="380.5" stroke="#333" stroke-width="1.3" stroke-dasharray="5,4"/>
  <!-- big circle -->
  <circle cx="525" cy="380.5" r="69.8" fill="#9acaed"/>
  <!--BC--><g fill="#c9e4f8" stroke="#2d6fb5" stroke-width="1.8" stroke-linejoin="round">
<path d="M526.5,377.0 L526.9,377.6 L527.2,378.1 L527.4,378.7 L527.5,379.3 L527.6,379.9 L527.6,380.5 L527.5,381.1 L527.4,381.7 L527.2,382.3 L526.9,382.8 L526.6,383.3 L526.2,383.8 L525.7,384.2 L525.2,384.6 L524.7,384.9 L524.1,385.2 L523.4,385.4 L522.7,385.5 L522.0,385.6 L521.2,385.5 L521.0,386.0 L520.9,386.6 L520.8,387.1 L520.6,387.7 L520.4,388.2 L520.1,388.6 L519.8,389.0 L519.4,389.4 L519.0,389.8 L518.6,390.1 L518.1,390.4 L517.6,390.6 L517.1,390.8 L516.6,390.9 L516.1,391.0 L515.6,391.1 L515.0,391.1 L514.5,391.0 L514.0,390.9 L513.4,390.8 L512.9,390.6 L512.4,390.2 L511.9,389.9 L511.5,390.6 L511.0,391.2 L510.5,391.7 L509.9,392.1 L509.4,392.4 L508.8,392.7 L508.2,392.9 L507.6,393.0 L507.0,393.1 L506.4,393.1 L505.8,393.0 L505.2,392.9 L504.7,392.7 L504.1,392.4 L503.6,392.1 L503.2,391.7 L502.7,391.3 L502.4,390.8 L502.1,390.2 L501.8,389.6 L501.7,389.0 L501.6,388.2 L501.1,388.0 L500.4,387.9 L499.8,387.8 L499.2,387.6 L498.7,387.3 L498.2,387.0 L497.8,386.6 L497.4,386.2 L497.1,385.7 L496.8,385.2 L496.5,384.7 L496.4,384.1 L496.3,383.6 L496.2,383.0 L496.2,382.4 L496.3,381.8 L496.4,381.2 L496.6,380.6 L496.9,380.0 L497.2,379.4 L497.6,378.9 L498.1,378.4 L498.6,377.9 L498.0,377.5 L497.5,377.0 L497.2,376.5 L496.9,376.0 L496.7,375.5 L496.5,375.0 L496.4,374.4 L496.3,373.9 L496.3,373.3 L496.3,372.8 L496.4,372.2 L496.5,371.7 L496.7,371.2 L496.9,370.7 L497.2,370.2 L497.5,369.8 L497.8,369.4 L498.2,369.0 L498.7,368.7 L499.2,368.4 L499.7,368.2 L500.4,368.1 L500.5,367.5 L500.4,366.8 L500.4,366.0 L500.5,365.4 L500.7,364.7 L500.9,364.1 L501.2,363.5 L501.6,363.0 L502.0,362.6 L502.4,362.1 L502.9,361.8 L503.4,361.5 L504.0,361.3 L504.6,361.1 L505.2,361.0 L505.8,361.0 L506.4,361.1 L507.1,361.2 L507.7,361.4 L508.3,361.7 L508.9,362.1 L509.5,362.6 L510.0,363.1 L510.5,362.6 L511.0,362.2 L511.5,362.0 L512.1,361.8 L512.6,361.7 L513.2,361.6 L513.7,361.6 L514.3,361.7 L514.8,361.8 L515.3,362.0 L515.8,362.2 L516.3,362.5 L516.7,362.8 L517.2,363.2 L517.6,363.6 L517.9,364.0 L518.2,364.5 L518.5,365.0 L518.8,365.5 L518.9,366.1 L519.1,366.7 L519.1,367.4 L519.5,367.5 L520.3,367.4 L520.9,367.4 L521.5,367.5 L522.2,367.6 L522.7,367.8 L523.3,368.1 L523.8,368.4 L524.3,368.7 L524.7,369.1 L525.1,369.5 L525.5,369.9 L525.8,370.4 L526.1,370.9 L526.2,371.5 L526.4,372.0 L526.5,372.6 L526.5,373.1 L526.4,373.7 L526.2,374.3 L526.0,374.9 L525.7,375.5 L525.3,376.0 L526.0,376.5Z"/>
<path d="M583.2,408.0 L583.3,408.6 L583.4,409.2 L583.4,409.8 L583.4,410.3 L583.2,410.9 L583.0,411.5 L582.8,412.0 L582.4,412.5 L582.0,413.0 L581.6,413.4 L581.1,413.8 L580.5,414.1 L579.9,414.4 L579.2,414.6 L578.3,414.7 L578.2,415.2 L578.3,415.8 L578.2,416.4 L578.1,416.9 L577.9,417.4 L577.7,417.9 L577.4,418.4 L577.1,418.8 L576.7,419.2 L576.3,419.5 L575.9,419.8 L575.5,420.1 L575.0,420.3 L574.5,420.5 L574.0,420.6 L573.4,420.7 L572.9,420.7 L572.4,420.7 L571.8,420.6 L571.3,420.5 L570.7,420.3 L570.2,420.0 L569.6,419.8 L569.4,420.5 L569.0,421.1 L568.6,421.7 L568.2,422.1 L567.7,422.5 L567.2,422.9 L566.7,423.2 L566.2,423.4 L565.6,423.6 L565.0,423.7 L564.5,423.8 L563.9,423.8 L563.4,423.7 L562.8,423.6 L562.3,423.4 L561.8,423.2 L561.3,422.9 L560.8,422.5 L560.4,422.1 L560.1,421.6 L559.8,421.0 L559.6,420.3 L559.1,420.2 L558.4,420.4 L557.7,420.4 L557.1,420.3 L556.5,420.2 L555.9,420.0 L555.4,419.7 L554.9,419.4 L554.4,419.0 L554.1,418.6 L553.7,418.1 L553.5,417.6 L553.2,417.1 L553.1,416.5 L553.0,415.9 L552.9,415.3 L553.0,414.7 L553.1,414.1 L553.2,413.4 L553.5,412.8 L553.8,412.2 L554.2,411.6 L554.6,411.0 L554.0,410.7 L553.6,410.3 L553.2,409.9 L552.9,409.5 L552.6,409.0 L552.4,408.5 L552.3,408.0 L552.1,407.5 L552.1,407.0 L552.1,406.5 L552.1,405.9 L552.2,405.4 L552.3,404.9 L552.4,404.4 L552.7,404.0 L552.9,403.5 L553.2,403.1 L553.6,402.7 L554.0,402.3 L554.4,402.0 L554.9,401.7 L555.6,401.6 L555.5,401.0 L555.3,400.3 L555.1,399.6 L555.1,398.9 L555.1,398.2 L555.2,397.6 L555.3,397.0 L555.5,396.4 L555.8,395.9 L556.1,395.4 L556.5,394.9 L556.9,394.5 L557.4,394.2 L557.9,393.9 L558.4,393.6 L559.0,393.5 L559.6,393.4 L560.2,393.4 L560.8,393.4 L561.4,393.6 L562.1,393.8 L562.7,394.2 L563.3,394.5 L563.7,393.9 L564.1,393.4 L564.6,393.0 L565.1,392.7 L565.6,392.5 L566.2,392.4 L566.7,392.3 L567.3,392.2 L567.8,392.3 L568.3,392.4 L568.9,392.5 L569.4,392.7 L569.9,393.0 L570.4,393.3 L570.8,393.7 L571.2,394.1 L571.6,394.5 L571.9,395.0 L572.2,395.5 L572.5,396.1 L572.7,396.7 L572.8,397.5 L573.2,397.5 L573.9,397.4 L574.5,397.3 L575.1,397.3 L575.6,397.4 L576.2,397.5 L576.7,397.6 L577.2,397.8 L577.7,398.1 L578.2,398.4 L578.6,398.7 L579.0,399.1 L579.4,399.5 L579.7,399.9 L579.9,400.4 L580.1,400.9 L580.3,401.4 L580.4,401.9 L580.4,402.4 L580.4,403.0 L580.3,403.6 L580.1,404.2 L579.9,404.7 L580.7,405.0 L581.3,405.4 L581.8,405.9 L582.3,406.4 L582.6,406.9 L582.9,407.4Z"/>
</g>
<g fill="#e6f4fd">
<path d="M523.4,377.0 L523.7,377.4 L523.9,377.9 L524.0,378.4 L524.1,378.8 L524.2,379.3 L524.2,379.8 L524.1,380.3 L524.0,380.7 L523.8,381.2 L523.6,381.6 L523.4,382.0 L523.1,382.4 L522.7,382.7 L522.3,383.0 L521.9,383.3 L521.4,383.5 L521.0,383.7 L520.4,383.9 L519.9,383.9 L519.3,383.9 L519.1,384.3 L519.0,384.7 L518.9,385.2 L518.7,385.6 L518.5,386.0 L518.3,386.3 L518.0,386.7 L517.7,387.0 L517.4,387.2 L517.1,387.5 L516.7,387.7 L516.3,387.9 L515.9,388.1 L515.5,388.2 L515.1,388.3 L514.7,388.3 L514.2,388.3 L513.8,388.3 L513.4,388.2 L513.0,388.1 L512.5,387.9 L512.1,387.7 L511.7,387.5 L511.4,388.0 L511.0,388.4 L510.6,388.8 L510.2,389.1 L509.7,389.3 L509.2,389.5 L508.8,389.6 L508.3,389.7 L507.8,389.8 L507.3,389.8 L506.9,389.7 L506.4,389.6 L506.0,389.5 L505.5,389.3 L505.1,389.0 L504.8,388.7 L504.4,388.4 L504.1,388.0 L503.9,387.6 L503.7,387.1 L503.5,386.6 L503.5,386.0 L503.1,385.8 L502.5,385.8 L502.1,385.6 L501.6,385.5 L501.2,385.2 L500.8,385.0 L500.5,384.6 L500.2,384.3 L499.9,383.9 L499.7,383.5 L499.5,383.1 L499.4,382.7 L499.3,382.2 L499.2,381.8 L499.2,381.3 L499.3,380.8 L499.3,380.3 L499.5,379.9 L499.7,379.4 L499.9,379.0 L500.2,378.5 L500.5,378.1 L500.9,377.7 L500.4,377.4 L500.1,377.0 L499.9,376.6 L499.7,376.2 L499.5,375.8 L499.4,375.4 L499.3,374.9 L499.2,374.5 L499.2,374.1 L499.2,373.6 L499.3,373.2 L499.4,372.8 L499.5,372.4 L499.7,372.0 L499.9,371.6 L500.2,371.2 L500.5,370.9 L500.8,370.6 L501.1,370.3 L501.5,370.1 L501.9,369.9 L502.5,369.8 L502.5,369.4 L502.5,368.8 L502.5,368.2 L502.6,367.7 L502.8,367.2 L503.0,366.7 L503.2,366.3 L503.5,365.9 L503.8,365.5 L504.2,365.2 L504.6,364.9 L505.0,364.7 L505.5,364.5 L505.9,364.4 L506.4,364.3 L506.9,364.3 L507.4,364.4 L507.9,364.4 L508.4,364.6 L508.8,364.8 L509.3,365.1 L509.8,365.4 L510.2,365.8 L510.6,365.4 L511.0,365.2 L511.4,365.0 L511.9,364.8 L512.3,364.8 L512.7,364.7 L513.2,364.7 L513.6,364.8 L514.0,364.9 L514.4,365.0 L514.8,365.2 L515.2,365.4 L515.6,365.6 L515.9,365.9 L516.3,366.2 L516.6,366.6 L516.8,366.9 L517.1,367.3 L517.3,367.7 L517.4,368.2 L517.5,368.6 L517.6,369.2 L518.0,369.3 L518.5,369.2 L519.0,369.3 L519.5,369.4 L520.0,369.5 L520.4,369.6 L520.8,369.9 L521.2,370.1 L521.6,370.4 L522.0,370.7 L522.3,371.0 L522.5,371.4 L522.8,371.8 L523.0,372.2 L523.1,372.6 L523.2,373.0 L523.3,373.5 L523.3,373.9 L523.3,374.4 L523.2,374.9 L523.0,375.3 L522.8,375.8 L522.5,376.2 L523.0,376.6Z"/>
<path d="M579.7,408.0 L579.8,408.5 L579.9,408.9 L579.9,409.4 L579.8,409.8 L579.7,410.3 L579.6,410.7 L579.4,411.2 L579.1,411.6 L578.8,411.9 L578.5,412.3 L578.1,412.6 L577.6,412.9 L577.2,413.1 L576.6,413.3 L576.0,413.4 L575.9,413.7 L575.9,414.2 L575.9,414.7 L575.8,415.1 L575.6,415.5 L575.4,415.9 L575.2,416.2 L575.0,416.6 L574.7,416.9 L574.4,417.1 L574.0,417.4 L573.7,417.6 L573.3,417.8 L572.9,417.9 L572.5,418.0 L572.1,418.1 L571.7,418.1 L571.2,418.2 L570.8,418.1 L570.4,418.0 L569.9,417.9 L569.5,417.7 L569.1,417.5 L568.8,418.1 L568.6,418.5 L568.2,418.9 L567.9,419.3 L567.5,419.6 L567.1,419.8 L566.7,420.0 L566.3,420.2 L565.8,420.4 L565.4,420.4 L564.9,420.5 L564.5,420.5 L564.1,420.4 L563.6,420.3 L563.2,420.2 L562.8,420.0 L562.4,419.8 L562.1,419.5 L561.7,419.1 L561.5,418.8 L561.2,418.3 L561.0,417.8 L560.6,417.7 L560.1,417.8 L559.6,417.8 L559.1,417.8 L558.6,417.6 L558.2,417.5 L557.8,417.3 L557.4,417.0 L557.0,416.7 L556.7,416.4 L556.5,416.0 L556.2,415.6 L556.1,415.2 L555.9,414.7 L555.8,414.3 L555.8,413.8 L555.8,413.3 L555.9,412.8 L556.0,412.3 L556.1,411.8 L556.4,411.4 L556.7,410.9 L557.0,410.4 L556.5,410.2 L556.2,409.9 L555.9,409.5 L555.7,409.2 L555.5,408.8 L555.3,408.4 L555.2,408.0 L555.1,407.6 L555.1,407.2 L555.1,406.8 L555.1,406.4 L555.1,406.0 L555.2,405.6 L555.4,405.2 L555.5,404.8 L555.7,404.4 L556.0,404.1 L556.2,403.8 L556.5,403.5 L556.9,403.2 L557.3,403.0 L557.7,402.8 L557.7,402.4 L557.5,401.8 L557.5,401.3 L557.4,400.8 L557.5,400.3 L557.6,399.8 L557.7,399.3 L557.9,398.8 L558.1,398.4 L558.3,398.0 L558.6,397.7 L559.0,397.4 L559.3,397.1 L559.7,396.9 L560.2,396.7 L560.6,396.6 L561.1,396.5 L561.6,396.4 L562.0,396.5 L562.5,396.6 L563.0,396.7 L563.5,397.0 L564.0,397.2 L564.3,396.7 L564.7,396.4 L565.0,396.1 L565.4,395.9 L565.8,395.7 L566.3,395.6 L566.7,395.5 L567.1,395.5 L567.6,395.5 L568.0,395.6 L568.4,395.7 L568.8,395.9 L569.2,396.1 L569.6,396.3 L570.0,396.6 L570.3,396.9 L570.6,397.3 L570.9,397.6 L571.1,398.0 L571.4,398.5 L571.5,398.9 L571.6,399.5 L572.0,399.6 L572.5,399.4 L572.9,399.4 L573.4,399.4 L573.8,399.5 L574.3,399.6 L574.7,399.7 L575.1,399.9 L575.5,400.1 L575.8,400.3 L576.2,400.6 L576.5,400.9 L576.7,401.2 L577.0,401.6 L577.2,401.9 L577.4,402.3 L577.5,402.7 L577.6,403.2 L577.6,403.6 L577.6,404.0 L577.6,404.5 L577.4,404.9 L577.2,405.4 L577.8,405.6 L578.3,406.0 L578.7,406.3 L579.0,406.7 L579.3,407.1 L579.5,407.6Z"/>
</g>
<path d="M560.3,354.5 L560.4,351.8 L559.4,349.6 L557.4,347.8 L555.4,346.1 L554.4,343.9 L554.4,341.2 M565.5,353.6 L565.6,351.7 L564.5,349.9 L563.4,348.0 L563.3,346.2 L564.4,344.3 L565.6,342.5 M568.7,354.5 L568.4,351.9 L568.1,349.2 L568.7,346.9 L570.5,345.0 L572.3,343.1 L573.2,340.9 M570.7,355.8 L571.2,353.2 L572.5,351.3 L574.8,350.1 L577.2,348.9 L578.8,347.2 L579.4,344.7 M573.3,358.8 L575.1,357.8 L577.3,357.9 L579.7,358.3 L581.7,357.7 L583.2,356.0 L584.6,354.1 M574.2,361.2 L576.2,361.9 L578.2,363.0 L580.1,363.0 L581.9,361.9 L583.7,360.4 L585.5,359.9 M574.1,366.0 L575.7,367.8 L577.6,368.7 L579.8,368.4 L582.1,367.8 L584.2,368.0 L585.9,369.4 M571.3,370.9 L572.6,372.7 L574.7,373.5 L577.1,373.9 L579.0,375.0 L580.0,377.1 L580.7,379.5 M566.3,373.5 L567.8,375.5 L569.7,377.3 L570.9,379.3 L570.8,381.8 L570.3,384.4 L570.6,386.8 M562.8,373.5 L563.9,376.1 L564.1,378.6 L563.1,381.0 L561.6,383.4 L560.8,385.8 L561.3,388.4" fill="none" stroke="#3d80c3" stroke-width="3.4" stroke-linecap="round" stroke-linejoin="round"/>
<path d="M560.3,354.5 L560.4,351.8 L559.4,349.6 L557.4,347.8 L555.4,346.1 L554.4,343.9 L554.4,341.2 M565.5,353.6 L565.6,351.7 L564.5,349.9 L563.4,348.0 L563.3,346.2 L564.4,344.3 L565.6,342.5 M568.7,354.5 L568.4,351.9 L568.1,349.2 L568.7,346.9 L570.5,345.0 L572.3,343.1 L573.2,340.9 M570.7,355.8 L571.2,353.2 L572.5,351.3 L574.8,350.1 L577.2,348.9 L578.8,347.2 L579.4,344.7 M573.3,358.8 L575.1,357.8 L577.3,357.9 L579.7,358.3 L581.7,357.7 L583.2,356.0 L584.6,354.1 M574.2,361.2 L576.2,361.9 L578.2,363.0 L580.1,363.0 L581.9,361.9 L583.7,360.4 L585.5,359.9 M574.1,366.0 L575.7,367.8 L577.6,368.7 L579.8,368.4 L582.1,367.8 L584.2,368.0 L585.9,369.4 M571.3,370.9 L572.6,372.7 L574.7,373.5 L577.1,373.9 L579.0,375.0 L580.0,377.1 L580.7,379.5 M566.3,373.5 L567.8,375.5 L569.7,377.3 L570.9,379.3 L570.8,381.8 L570.3,384.4 L570.6,386.8 M562.8,373.5 L563.9,376.1 L564.1,378.6 L563.1,381.0 L561.6,383.4 L560.8,385.8 L561.3,388.4" fill="none" stroke="#d6ebfb" stroke-width="1.3" stroke-linecap="round" stroke-linejoin="round"/>
<path d="M579.0,363.6 L579.2,364.1 L579.2,364.6 L579.3,365.2 L579.3,365.7 L579.2,366.2 L579.2,366.7 L579.0,367.2 L578.9,367.7 L578.6,368.2 L578.4,368.7 L578.1,369.1 L577.8,369.6 L577.4,370.0 L577.0,370.3 L576.6,370.7 L576.1,370.9 L575.7,371.2 L575.6,371.7 L575.4,372.2 L575.2,372.7 L575.0,373.1 L574.7,373.5 L574.4,373.9 L574.0,374.3 L573.6,374.6 L573.2,374.9 L572.8,375.2 L572.4,375.5 L572.0,375.7 L571.5,375.9 L571.0,376.1 L570.5,376.2 L570.0,376.3 L569.5,376.3 L569.0,376.4 L568.5,376.3 L568.0,376.3 L567.7,376.7 L567.3,377.0 L566.8,377.3 L566.4,377.5 L565.9,377.8 L565.4,377.9 L564.9,378.1 L564.4,378.2 L563.9,378.2 L563.4,378.2 L562.9,378.2 L562.4,378.2 L561.8,378.1 L561.4,377.9 L560.9,377.8 L560.4,377.6 L559.9,377.3 L559.5,377.0 L559.1,376.7 L558.7,376.3 L558.2,376.4 L557.6,376.4 L557.1,376.3 L556.6,376.1 L556.1,375.9 L555.6,375.7 L555.1,375.4 L554.7,375.1 L554.3,374.8 L553.9,374.4 L553.6,374.0 L553.3,373.6 L553.0,373.2 L552.7,372.7 L552.5,372.2 L552.4,371.7 L552.3,371.2 L552.2,370.7 L552.2,370.1 L552.2,369.6 L551.7,369.2 L551.4,368.8 L551.1,368.4 L550.9,368.0 L550.7,367.5 L550.5,367.1 L550.4,366.6 L550.2,366.1 L550.2,365.6 L550.1,365.1 L550.1,364.6 L550.1,364.1 L550.2,363.6 L550.3,363.1 L550.4,362.6 L550.6,362.1 L550.8,361.7 L551.0,361.2 L551.3,360.8 L551.6,360.4 L551.4,359.9 L551.3,359.4 L551.3,358.8 L551.3,358.3 L551.4,357.8 L551.5,357.3 L551.6,356.8 L551.8,356.3 L552.0,355.9 L552.2,355.4 L552.5,355.0 L552.8,354.5 L553.1,354.2 L553.5,353.8 L553.9,353.5 L554.3,353.1 L554.7,352.9 L555.2,352.7 L555.7,352.5 L556.2,352.3 L556.4,351.8 L556.7,351.3 L557.1,350.9 L557.5,350.6 L557.9,350.2 L558.3,349.9 L558.8,349.7 L559.2,349.4 L559.7,349.3 L560.2,349.1 L560.8,349.0 L561.3,348.9 L561.8,348.9 L562.3,349.0 L562.9,349.0 L563.4,349.1 L563.9,349.3 L564.4,349.5 L564.9,349.8 L565.4,350.0 L565.8,349.8 L566.3,349.7 L566.9,349.7 L567.4,349.7 L567.9,349.8 L568.3,349.8 L568.8,349.9 L569.3,350.1 L569.8,350.3 L570.2,350.5 L570.7,350.7 L571.1,351.0 L571.5,351.3 L571.9,351.6 L572.2,352.0 L572.6,352.4 L572.9,352.8 L573.1,353.2 L573.4,353.6 L573.6,354.1 L574.1,354.2 L574.6,354.4 L575.1,354.7 L575.5,354.9 L575.9,355.2 L576.3,355.6 L576.7,355.9 L577.0,356.3 L577.3,356.7 L577.6,357.2 L577.8,357.6 L578.0,358.1 L578.2,358.6 L578.3,359.1 L578.4,359.6 L578.5,360.1 L578.5,360.6 L578.5,361.1 L578.4,361.6 L578.3,362.1 L578.6,362.6 L578.8,363.1Z" fill="#d3e9fa" stroke="#3d80c3" stroke-width="1.2"/>
<circle cx="564.4" cy="363.6" r="10" fill="#e9f5fd"/>
<g fill="#3f84ca">
<path d="M518.8,374.8 L519.0,375.4 L519.1,375.9 L519.2,376.5 L519.2,377.1 L519.0,377.7 L518.9,378.4 L518.6,379.0 L518.3,379.6 L517.9,380.2 L517.4,380.7 L516.9,381.3 L516.3,381.8 L515.7,382.2 L515.0,382.6 L514.3,383.0 L513.6,383.3 L512.9,383.5 L512.1,383.7 L511.4,383.8 L510.6,383.9 L509.9,383.9 L509.2,383.8 L508.5,383.7 L507.9,383.5 L507.3,383.2 L506.7,382.9 L506.3,382.6 L505.8,382.1 L505.5,381.7 L505.2,381.2 L505.0,380.7 L504.9,380.1 L504.9,379.5 L504.9,379.0 L505.0,378.4 L505.3,377.9 L505.6,377.5 L506.0,377.1 L506.6,376.8 L507.2,376.6 L507.9,376.5 L508.7,376.4 L509.5,376.4 L510.3,376.3 L511.1,376.0 L511.7,375.6 L512.3,375.1 L512.9,374.5 L513.4,373.9 L514.0,373.4 L514.5,373.0 L515.1,372.8 L515.7,372.7 L516.3,372.8 L516.8,372.9 L517.3,373.2 L517.8,373.5 L518.2,373.9 L518.5,374.3Z"/>
<path d="M573.6,407.1 L573.7,407.6 L573.8,408.2 L573.8,408.7 L573.7,409.3 L573.6,409.9 L573.4,410.5 L573.1,411.0 L572.7,411.6 L572.3,412.1 L571.8,412.6 L571.3,413.0 L570.7,413.5 L570.1,413.8 L569.5,414.2 L568.8,414.4 L568.1,414.7 L567.4,414.8 L566.7,414.9 L566.0,415.0 L565.3,415.0 L564.6,414.9 L563.9,414.8 L563.3,414.6 L562.7,414.3 L562.2,414.0 L561.7,413.7 L561.3,413.3 L560.9,412.9 L560.6,412.4 L560.4,411.9 L560.3,411.4 L560.2,410.9 L560.2,410.3 L560.3,409.8 L560.5,409.3 L560.7,408.8 L561.1,408.4 L561.5,408.1 L562.0,407.8 L562.6,407.7 L563.3,407.7 L564.0,407.7 L564.8,407.7 L565.6,407.7 L566.3,407.5 L566.9,407.2 L567.5,406.7 L568.1,406.2 L568.7,405.7 L569.2,405.3 L569.7,405.0 L570.3,404.9 L570.8,404.8 L571.4,404.9 L571.9,405.1 L572.3,405.4 L572.7,405.8 L573.1,406.2 L573.4,406.6Z"/>
<path d="M571.1,362.8 L571.3,363.3 L571.3,363.8 L571.3,364.3 L571.3,364.9 L571.1,365.4 L570.9,366.0 L570.7,366.5 L570.4,367.0 L570.0,367.5 L569.5,368.0 L569.0,368.4 L568.5,368.8 L567.9,369.1 L567.3,369.4 L566.7,369.7 L566.1,369.9 L565.4,370.1 L564.7,370.2 L564.1,370.2 L563.4,370.2 L562.8,370.1 L562.2,370.0 L561.6,369.8 L561.1,369.6 L560.6,369.3 L560.1,368.9 L559.7,368.6 L559.4,368.2 L559.1,367.7 L558.9,367.2 L558.8,366.7 L558.7,366.2 L558.7,365.7 L558.8,365.2 L558.9,364.8 L559.2,364.3 L559.5,363.9 L559.9,363.6 L560.3,363.4 L560.9,363.3 L561.5,363.2 L562.2,363.3 L562.9,363.3 L563.7,363.3 L564.3,363.1 L564.9,362.8 L565.5,362.4 L566.0,361.9 L566.5,361.4 L567.0,361.0 L567.5,360.8 L568.0,360.6 L568.5,360.6 L569.0,360.7 L569.5,360.9 L569.9,361.2 L570.3,361.5 L570.6,361.9 L570.9,362.3Z"/>
</g>
<circle cx="530.8" cy="401.5" r="8.6" fill="#5b99d2"/>
<g>
<circle cx="489.2" cy="345.3" r="12.8" fill="#e6f3fc" stroke="#2364a9" stroke-width="1.5"/>
<circle cx="490.8" cy="344.3" r="9.9" fill="#4b8dcd" stroke="#2b6cb0" stroke-width="0.8"/>
<circle cx="537.4" cy="348.8" r="12.4" fill="#e6f3fc" stroke="#2364a9" stroke-width="1.5"/>
<circle cx="539.0" cy="347.8" r="9.5" fill="#4b8dcd" stroke="#2b6cb0" stroke-width="0.8"/>
<circle cx="482.8" cy="402.9" r="12.3" fill="#e6f3fc" stroke="#2364a9" stroke-width="1.5"/>
<circle cx="484.4" cy="401.9" r="9.4" fill="#4b8dcd" stroke="#2b6cb0" stroke-width="0.8"/>
<circle cx="539.7" cy="428.5" r="12.6" fill="#e6f3fc" stroke="#2364a9" stroke-width="1.5"/>
<circle cx="541.3" cy="427.5" r="9.7" fill="#4b8dcd" stroke="#2b6cb0" stroke-width="0.8"/>
</g>
<path d="M503.2,348.8 L500.9,344.8 M507.5,346.3 L505.3,342.3 M512.0,344.0 L509.9,339.9 M516.5,341.9 L514.6,337.7 M521.1,340.0 L519.4,335.7 M525.8,338.2 L524.3,333.9 M530.6,336.8 L529.4,332.3 M535.5,335.7 L534.5,331.2" fill="none" stroke="#cbe5f8" stroke-width="4.6"/>
<path d="M501.0,350.0 L501.6,349.6 L502.3,349.3 L502.9,348.9 L503.6,348.6 L504.2,348.2 L504.9,347.9 L505.5,347.5 L506.2,347.1 L506.8,346.8 L507.4,346.4 L508.1,346.0 L508.7,345.7 L509.4,345.3 L510.0,345.0 L510.7,344.6 L511.3,344.3 L512.0,344.0 L512.7,343.6 L513.3,343.3 L514.0,343.0 L514.7,342.7 L515.4,342.4 L516.1,342.1 L516.8,341.8 L517.5,341.5 L518.2,341.2 L518.9,340.9 L519.6,340.6 L520.3,340.3 L521.0,340.0 L521.7,339.7 L522.4,339.4 L523.1,339.2 L523.8,338.9 L524.5,338.7 L525.2,338.4 L525.9,338.2 L526.6,337.9 L527.3,337.7 L528.0,337.5 L528.7,337.3 L529.3,337.1 L530.0,336.9 L530.7,336.7 L531.3,336.6 L532.0,336.4 L532.6,336.3 L533.3,336.1 L533.9,336.0 L534.6,335.8 L535.2,335.7 L535.8,335.6 L536.5,335.5 L537.1,335.3 L537.8,335.2 L538.4,335.1 L539.1,334.9 L539.7,334.8 L540.4,334.6 L541.0,334.5" fill="none" stroke="#cbe5f8" stroke-width="5.2" stroke-linecap="round"/>
<path d="M503.2,348.8 L500.9,344.8 M507.5,346.3 L505.3,342.3 M512.0,344.0 L509.9,339.9 M516.5,341.9 L514.6,337.7 M521.1,340.0 L519.4,335.7 M525.8,338.2 L524.3,333.9 M530.6,336.8 L529.4,332.3 M535.5,335.7 L534.5,331.2" fill="none" stroke="#1f5fa5" stroke-width="3.0"/>
<path d="M501.0,350.0 L501.6,349.6 L502.3,349.3 L502.9,348.9 L503.6,348.6 L504.2,348.2 L504.9,347.9 L505.5,347.5 L506.2,347.1 L506.8,346.8 L507.4,346.4 L508.1,346.0 L508.7,345.7 L509.4,345.3 L510.0,345.0 L510.7,344.6 L511.3,344.3 L512.0,344.0 L512.7,343.6 L513.3,343.3 L514.0,343.0 L514.7,342.7 L515.4,342.4 L516.1,342.1 L516.8,341.8 L517.5,341.5 L518.2,341.2 L518.9,340.9 L519.6,340.6 L520.3,340.3 L521.0,340.0 L521.7,339.7 L522.4,339.4 L523.1,339.2 L523.8,338.9 L524.5,338.7 L525.2,338.4 L525.9,338.2 L526.6,337.9 L527.3,337.7 L528.0,337.5 L528.7,337.3 L529.3,337.1 L530.0,336.9 L530.7,336.7 L531.3,336.6 L532.0,336.4 L532.6,336.3 L533.3,336.1 L533.9,336.0 L534.6,335.8 L535.2,335.7 L535.8,335.6 L536.5,335.5 L537.1,335.3 L537.8,335.2 L538.4,335.1 L539.1,334.9 L539.7,334.8 L540.4,334.6 L541.0,334.5" fill="none" stroke="#1f5fa5" stroke-width="3.2" stroke-linecap="round"/>
<path d="M481.5,359.4 L477.0,358.4 M480.3,364.3 L475.8,363.2 M479.2,369.2 L474.7,368.3 M478.5,374.1 L473.9,373.9 M478.5,379.1 L473.9,379.3 M478.9,384.1 L474.4,384.8 M480.0,389.0 L475.6,390.2 M481.6,393.7 L477.3,395.3 M483.5,398.3 L479.3,400.2 M485.7,402.8 L481.7,405.0 M488.3,407.1 L484.4,409.6 M491.3,411.1 L487.8,414.2 M494.7,414.7 L491.7,418.2 M498.6,417.9 L495.8,421.6 M502.6,420.9 L500.0,424.7 M506.7,423.8 L504.1,427.5 M510.8,426.6 L508.1,430.4" fill="none" stroke="#cbe5f8" stroke-width="4.6"/>
<path d="M482.0,357.0 L481.8,357.9 L481.6,358.8 L481.4,359.7 L481.2,360.6 L481.0,361.5 L480.8,362.4 L480.5,363.3 L480.3,364.2 L480.1,365.2 L479.9,366.1 L479.7,367.0 L479.5,367.9 L479.3,368.8 L479.1,369.7 L479.0,370.6 L478.8,371.5 L478.7,372.4 L478.6,373.2 L478.5,374.1 L478.5,375.0 L478.5,375.9 L478.5,376.7 L478.5,377.6 L478.5,378.4 L478.5,379.2 L478.5,380.1 L478.6,380.9 L478.7,381.7 L478.7,382.6 L478.8,383.4 L479.0,384.2 L479.1,385.0 L479.3,385.9 L479.4,386.7 L479.6,387.6 L479.9,388.4 L480.1,389.3 L480.4,390.2 L480.7,391.1 L481.0,392.0 L481.3,392.9 L481.7,393.9 L482.1,394.9 L482.5,395.9 L482.9,396.9 L483.3,397.9 L483.8,398.9 L484.3,399.9 L484.8,401.0 L485.3,402.0 L485.8,403.0 L486.4,404.1 L487.0,405.1 L487.6,406.1 L488.3,407.1 L489.0,408.1 L489.7,409.1 L490.4,410.1 L491.2,411.1 L492.0,412.0 L492.9,412.9 L493.8,413.8 L494.7,414.7 L495.7,415.6 L496.7,416.5 L497.8,417.3 L498.9,418.2 L500.0,419.0 L501.2,419.9 L502.3,420.7 L503.5,421.5 L504.7,422.3 L505.9,423.2 L507.1,424.0 L508.2,424.8 L509.4,425.6 L510.6,426.5 L511.8,427.3 L512.9,428.2 L514.0,429.0" fill="none" stroke="#cbe5f8" stroke-width="5.2" stroke-linecap="round"/>
<path d="M481.5,359.4 L477.0,358.4 M480.3,364.3 L475.8,363.2 M479.2,369.2 L474.7,368.3 M478.5,374.1 L473.9,373.9 M478.5,379.1 L473.9,379.3 M478.9,384.1 L474.4,384.8 M480.0,389.0 L475.6,390.2 M481.6,393.7 L477.3,395.3 M483.5,398.3 L479.3,400.2 M485.7,402.8 L481.7,405.0 M488.3,407.1 L484.4,409.6 M491.3,411.1 L487.8,414.2 M494.7,414.7 L491.7,418.2 M498.6,417.9 L495.8,421.6 M502.6,420.9 L500.0,424.7 M506.7,423.8 L504.1,427.5 M510.8,426.6 L508.1,430.4" fill="none" stroke="#1f5fa5" stroke-width="3.0"/>
<path d="M482.0,357.0 L481.8,357.9 L481.6,358.8 L481.4,359.7 L481.2,360.6 L481.0,361.5 L480.8,362.4 L480.5,363.3 L480.3,364.2 L480.1,365.2 L479.9,366.1 L479.7,367.0 L479.5,367.9 L479.3,368.8 L479.1,369.7 L479.0,370.6 L478.8,371.5 L478.7,372.4 L478.6,373.2 L478.5,374.1 L478.5,375.0 L478.5,375.9 L478.5,376.7 L478.5,377.6 L478.5,378.4 L478.5,379.2 L478.5,380.1 L478.6,380.9 L478.7,381.7 L478.7,382.6 L478.8,383.4 L479.0,384.2 L479.1,385.0 L479.3,385.9 L479.4,386.7 L479.6,387.6 L479.9,388.4 L480.1,389.3 L480.4,390.2 L480.7,391.1 L481.0,392.0 L481.3,392.9 L481.7,393.9 L482.1,394.9 L482.5,395.9 L482.9,396.9 L483.3,397.9 L483.8,398.9 L484.3,399.9 L484.8,401.0 L485.3,402.0 L485.8,403.0 L486.4,404.1 L487.0,405.1 L487.6,406.1 L488.3,407.1 L489.0,408.1 L489.7,409.1 L490.4,410.1 L491.2,411.1 L492.0,412.0 L492.9,412.9 L493.8,413.8 L494.7,414.7 L495.7,415.6 L496.7,416.5 L497.8,417.3 L498.9,418.2 L500.0,419.0 L501.2,419.9 L502.3,420.7 L503.5,421.5 L504.7,422.3 L505.9,423.2 L507.1,424.0 L508.2,424.8 L509.4,425.6 L510.6,426.5 L511.8,427.3 L512.9,428.2 L514.0,429.0" fill="none" stroke="#1f5fa5" stroke-width="3.2" stroke-linecap="round"/>
<path d="M555.7,375.1 L559.5,377.6 M553.0,379.3 L556.8,381.8 M550.3,383.6 L554.3,385.9 M548.0,388.0 L552.0,390.1 M545.7,392.4 L549.9,394.4 M543.8,397.1 L548.2,398.5 M542.6,401.9 L547.2,402.6 M542.1,406.9 L546.7,407.2 M541.8,411.9 L546.4,412.1" fill="none" stroke="#cbe5f8" stroke-width="4.6"/>
<path d="M557.0,373.0 L556.6,373.6 L556.2,374.3 L555.8,374.9 L555.4,375.6 L555.0,376.2 L554.5,376.9 L554.1,377.5 L553.7,378.2 L553.3,378.8 L552.9,379.4 L552.5,380.1 L552.1,380.7 L551.7,381.4 L551.3,382.0 L550.9,382.7 L550.5,383.3 L550.1,384.0 L549.7,384.7 L549.4,385.3 L549.0,386.0 L548.6,386.7 L548.3,387.3 L547.9,388.0 L547.6,388.7 L547.3,389.3 L546.9,390.0 L546.6,390.7 L546.2,391.3 L545.9,392.0 L545.6,392.7 L545.3,393.4 L545.0,394.1 L544.7,394.8 L544.4,395.5 L544.1,396.2 L543.9,396.9 L543.6,397.7 L543.4,398.4 L543.2,399.2 L543.0,400.0 L542.8,400.8 L542.7,401.6 L542.5,402.5 L542.4,403.3 L542.3,404.2 L542.2,405.1 L542.1,406.0 L542.1,406.9 L542.0,407.8 L542.0,408.8 L541.9,409.7 L541.9,410.6 L541.8,411.5 L541.8,412.5 L541.8,413.4 L541.7,414.3 L541.7,415.3 L541.6,416.2 L541.6,417.1 L541.5,418.0" fill="none" stroke="#cbe5f8" stroke-width="5.2" stroke-linecap="round"/>
<path d="M555.7,375.1 L559.5,377.6 M553.0,379.3 L556.8,381.8 M550.3,383.6 L554.3,385.9 M548.0,388.0 L552.0,390.1 M545.7,392.4 L549.9,394.4 M543.8,397.1 L548.2,398.5 M542.6,401.9 L547.2,402.6 M542.1,406.9 L546.7,407.2 M541.8,411.9 L546.4,412.1" fill="none" stroke="#1f5fa5" stroke-width="3.0"/>
<path d="M557.0,373.0 L556.6,373.6 L556.2,374.3 L555.8,374.9 L555.4,375.6 L555.0,376.2 L554.5,376.9 L554.1,377.5 L553.7,378.2 L553.3,378.8 L552.9,379.4 L552.5,380.1 L552.1,380.7 L551.7,381.4 L551.3,382.0 L550.9,382.7 L550.5,383.3 L550.1,384.0 L549.7,384.7 L549.4,385.3 L549.0,386.0 L548.6,386.7 L548.3,387.3 L547.9,388.0 L547.6,388.7 L547.3,389.3 L546.9,390.0 L546.6,390.7 L546.2,391.3 L545.9,392.0 L545.6,392.7 L545.3,393.4 L545.0,394.1 L544.7,394.8 L544.4,395.5 L544.1,396.2 L543.9,396.9 L543.6,397.7 L543.4,398.4 L543.2,399.2 L543.0,400.0 L542.8,400.8 L542.7,401.6 L542.5,402.5 L542.4,403.3 L542.3,404.2 L542.2,405.1 L542.1,406.0 L542.1,406.9 L542.0,407.8 L542.0,408.8 L541.9,409.7 L541.9,410.6 L541.8,411.5 L541.8,412.5 L541.8,413.4 L541.7,414.3 L541.7,415.3 L541.6,416.2 L541.6,417.1 L541.5,418.0" fill="none" stroke="#1f5fa5" stroke-width="3.2" stroke-linecap="round"/>
<circle cx="509.0" cy="330.0" r="1.9" fill="none" stroke="#2f73b8" stroke-width="1.1"/><path d="M510.6,330.9 l3.5,2.0" stroke="#2f73b8" stroke-width="1.2"/><circle cx="532.8" cy="382.0" r="1.9" fill="none" stroke="#2f73b8" stroke-width="1.1"/><path d="M534.6,382.6 l3.8,1.4" stroke="#2f73b8" stroke-width="1.2"/><circle cx="470.0" cy="391.0" r="1.9" fill="none" stroke="#2f73b8" stroke-width="1.1"/><path d="M470.9,392.6 l2.0,3.5" stroke="#2f73b8" stroke-width="1.2"/><circle cx="502.0" cy="403.0" r="1.9" fill="none" stroke="#2f73b8" stroke-width="1.1"/><path d="M503.6,402.1 l3.5,-2.0" stroke="#2f73b8" stroke-width="1.2"/><circle cx="525.0" cy="420.0" r="1.9" fill="none" stroke="#2f73b8" stroke-width="1.1"/><path d="M525.3,421.9 l0.7,3.9" stroke="#2f73b8" stroke-width="1.2"/><circle cx="549.0" cy="333.5" r="1.9" fill="none" stroke="#2f73b8" stroke-width="1.1"/><path d="M550.9,333.8 l3.9,0.7" stroke="#2f73b8" stroke-width="1.2"/><circle cx="554.0" cy="398.0" r="1.9" fill="none" stroke="#2f73b8" stroke-width="1.1"/><path d="M555.0,396.4 l2.0,-3.5" stroke="#2f73b8" stroke-width="1.2"/><circle cx="570.0" cy="395.0" r="1.9" fill="none" stroke="#2f73b8" stroke-width="1.1"/><path d="M571.5,393.8 l3.1,-2.6" stroke="#2f73b8" stroke-width="1.2"/><!--/BC-->
  <circle cx="525" cy="380.5" r="69.8" fill="none" stroke="#2f333c" stroke-width="1.4" stroke-dasharray="4.6,3.4"/>
</g>

<!-- ===== brackets ===== -->
<g fill="none" stroke="#555" stroke-width="1.5">
  <polyline points="378,5.8 361,5.8 361,148.7 378,148.7"/>
  <polyline points="582,5.8 599.5,5.8 599.5,148.7 582,148.7"/>
  <polyline points="378,157.5 361,157.5 361,300.4 378,300.4"/>
  <polyline points="582,157.5 599.5,157.5 599.5,300.4 582,300.4"/>
  <polyline points="378,309.8 361,309.8 361,452.5 378,452.5"/>
  <polyline points="582,309.8 599.5,309.8 599.5,452.5 582,452.5"/>
</g>

<!-- ===== well plate ===== -->
<g id="plate">
  <path d="M624,66.1 L624,70 L701.2,115.2 L754.4,88 L754.4,84.2 L701.2,111.2 Z" fill="#c5cbdc" stroke="#7d87a8" stroke-width="0.8"/>
  <path d="M624,66.1 L674.2,38 L754.4,84.2 L701.2,111.2 Z" fill="#eceef5" stroke="#7d87a8" stroke-width="0.9"/>
  <g fill="#9aa3bf" stroke="#7b85a7" stroke-width="0.5">
<ellipse cx="634.0" cy="66.6" rx="3.3" ry="1.95"/>
<ellipse cx="640.1" cy="70.1" rx="3.3" ry="1.95"/>
<ellipse cx="646.1" cy="73.7" rx="3.3" ry="1.95"/>
<ellipse cx="652.2" cy="77.2" rx="3.3" ry="1.95"/>
<ellipse cx="658.2" cy="80.7" rx="3.3" ry="1.95"/>
<ellipse cx="664.3" cy="84.3" rx="3.3" ry="1.95"/>
<ellipse cx="670.3" cy="87.8" rx="3.3" ry="1.95"/>
<ellipse cx="676.3" cy="91.3" rx="3.3" ry="1.95"/>
<ellipse cx="682.4" cy="94.9" rx="3.3" ry="1.95"/>
<ellipse cx="688.4" cy="98.4" rx="3.3" ry="1.95"/>
<ellipse cx="694.5" cy="101.9" rx="3.3" ry="1.95"/>
<ellipse cx="700.5" cy="105.5" rx="3.3" ry="1.95"/>
<ellipse cx="639.9" cy="63.3" rx="3.3" ry="1.95"/>
<ellipse cx="645.9" cy="66.9" rx="3.3" ry="1.95"/>
<ellipse cx="651.9" cy="70.4" rx="3.3" ry="1.95"/>
<ellipse cx="658.0" cy="73.9" rx="3.3" ry="1.95"/>
<ellipse cx="664.0" cy="77.5" rx="3.3" ry="1.95"/>
<ellipse cx="670.1" cy="81.0" rx="3.3" ry="1.95"/>
<ellipse cx="676.1" cy="84.5" rx="3.3" ry="1.95"/>
<ellipse cx="682.2" cy="88.1" rx="3.3" ry="1.95"/>
<ellipse cx="688.2" cy="91.6" rx="3.3" ry="1.95"/>
<ellipse cx="694.3" cy="95.1" rx="3.3" ry="1.95"/>
<ellipse cx="700.3" cy="98.7" rx="3.3" ry="1.95"/>
<ellipse cx="706.4" cy="102.2" rx="3.3" ry="1.95"/>
<ellipse cx="645.7" cy="60.1" rx="3.3" ry="1.95"/>
<ellipse cx="651.7" cy="63.6" rx="3.3" ry="1.95"/>
<ellipse cx="657.8" cy="67.1" rx="3.3" ry="1.95"/>
<ellipse cx="663.8" cy="70.7" rx="3.3" ry="1.95"/>
<ellipse cx="669.9" cy="74.2" rx="3.3" ry="1.95"/>
<ellipse cx="675.9" cy="77.7" rx="3.3" ry="1.95"/>
<ellipse cx="682.0" cy="81.3" rx="3.3" ry="1.95"/>
<ellipse cx="688.0" cy="84.8" rx="3.3" ry="1.95"/>
<ellipse cx="694.1" cy="88.3" rx="3.3" ry="1.95"/>
<ellipse cx="700.1" cy="91.9" rx="3.3" ry="1.95"/>
<ellipse cx="706.2" cy="95.4" rx="3.3" ry="1.95"/>
<ellipse cx="712.2" cy="98.9" rx="3.3" ry="1.95"/>
<ellipse cx="651.5" cy="56.8" rx="3.3" ry="1.95"/>
<ellipse cx="657.6" cy="60.3" rx="3.3" ry="1.95"/>
<ellipse cx="663.6" cy="63.9" rx="3.3" ry="1.95"/>
<ellipse cx="669.7" cy="67.4" rx="3.3" ry="1.95"/>
<ellipse cx="675.7" cy="70.9" rx="3.3" ry="1.95"/>
<ellipse cx="681.8" cy="74.5" rx="3.3" ry="1.95"/>
<ellipse cx="687.8" cy="78.0" rx="3.3" ry="1.95"/>
<ellipse cx="693.9" cy="81.5" rx="3.3" ry="1.95"/>
<ellipse cx="699.9" cy="85.1" rx="3.3" ry="1.95"/>
<ellipse cx="705.9" cy="88.6" rx="3.3" ry="1.95"/>
<ellipse cx="712.0" cy="92.1" rx="3.3" ry="1.95"/>
<ellipse cx="718.0" cy="95.7" rx="3.3" ry="1.95"/>
<ellipse cx="657.4" cy="53.5" rx="3.3" ry="1.95"/>
<ellipse cx="663.4" cy="57.1" rx="3.3" ry="1.95"/>
<ellipse cx="669.5" cy="60.6" rx="3.3" ry="1.95"/>
<ellipse cx="675.5" cy="64.1" rx="3.3" ry="1.95"/>
<ellipse cx="681.5" cy="67.7" rx="3.3" ry="1.95"/>
<ellipse cx="687.6" cy="71.2" rx="3.3" ry="1.95"/>
<ellipse cx="693.6" cy="74.7" rx="3.3" ry="1.95"/>
<ellipse cx="699.7" cy="78.3" rx="3.3" ry="1.95"/>
<ellipse cx="705.7" cy="81.8" rx="3.3" ry="1.95"/>
<ellipse cx="711.8" cy="85.3" rx="3.3" ry="1.95"/>
<ellipse cx="717.8" cy="88.9" rx="3.3" ry="1.95"/>
<ellipse cx="723.9" cy="92.4" rx="3.3" ry="1.95"/>
<ellipse cx="663.2" cy="50.3" rx="3.3" ry="1.95"/>
<ellipse cx="669.2" cy="53.8" rx="3.3" ry="1.95"/>
<ellipse cx="675.3" cy="57.3" rx="3.3" ry="1.95"/>
<ellipse cx="681.3" cy="60.9" rx="3.3" ry="1.95"/>
<ellipse cx="687.4" cy="64.4" rx="3.3" ry="1.95"/>
<ellipse cx="693.4" cy="67.9" rx="3.3" ry="1.95"/>
<ellipse cx="699.5" cy="71.5" rx="3.3" ry="1.95"/>
<ellipse cx="705.5" cy="75.0" rx="3.3" ry="1.95"/>
<ellipse cx="711.6" cy="78.5" rx="3.3" ry="1.95"/>
<ellipse cx="717.6" cy="82.1" rx="3.3" ry="1.95"/>
<ellipse cx="723.7" cy="85.6" rx="3.3" ry="1.95"/>
<ellipse cx="729.7" cy="89.1" rx="3.3" ry="1.95"/>
<ellipse cx="669.0" cy="47.0" rx="3.3" ry="1.95"/>
<ellipse cx="675.1" cy="50.5" rx="3.3" ry="1.95"/>
<ellipse cx="681.1" cy="54.1" rx="3.3" ry="1.95"/>
<ellipse cx="687.2" cy="57.6" rx="3.3" ry="1.95"/>
<ellipse cx="693.2" cy="61.1" rx="3.3" ry="1.95"/>
<ellipse cx="699.3" cy="64.7" rx="3.3" ry="1.95"/>
<ellipse cx="705.3" cy="68.2" rx="3.3" ry="1.95"/>
<ellipse cx="711.4" cy="71.7" rx="3.3" ry="1.95"/>
<ellipse cx="717.4" cy="75.3" rx="3.3" ry="1.95"/>
<ellipse cx="723.5" cy="78.8" rx="3.3" ry="1.95"/>
<ellipse cx="729.5" cy="82.3" rx="3.3" ry="1.95"/>
<ellipse cx="735.5" cy="85.9" rx="3.3" ry="1.95"/>
<ellipse cx="674.9" cy="43.7" rx="3.3" ry="1.95"/>
<ellipse cx="680.9" cy="47.3" rx="3.3" ry="1.95"/>
<ellipse cx="687.0" cy="50.8" rx="3.3" ry="1.95"/>
<ellipse cx="693.0" cy="54.3" rx="3.3" ry="1.95"/>
<ellipse cx="699.1" cy="57.9" rx="3.3" ry="1.95"/>
<ellipse cx="705.1" cy="61.4" rx="3.3" ry="1.95"/>
<ellipse cx="711.1" cy="64.9" rx="3.3" ry="1.95"/>
<ellipse cx="717.2" cy="68.5" rx="3.3" ry="1.95"/>
<ellipse cx="723.2" cy="72.0" rx="3.3" ry="1.95"/>
<ellipse cx="729.3" cy="75.5" rx="3.3" ry="1.95"/>
<ellipse cx="735.3" cy="79.1" rx="3.3" ry="1.95"/>
<ellipse cx="741.4" cy="82.6" rx="3.3" ry="1.95"/>
  </g>
  <g fill="#e6e9f3">
<ellipse cx="634.5" cy="67.2" rx="2.5" ry="1.35"/>
<ellipse cx="640.6" cy="70.7" rx="2.5" ry="1.35"/>
<ellipse cx="646.6" cy="74.2" rx="2.5" ry="1.35"/>
<ellipse cx="652.7" cy="77.8" rx="2.5" ry="1.35"/>
<ellipse cx="658.7" cy="81.3" rx="2.5" ry="1.35"/>
<ellipse cx="664.8" cy="84.8" rx="2.5" ry="1.35"/>
<ellipse cx="670.8" cy="88.3" rx="2.5" ry="1.35"/>
<ellipse cx="676.8" cy="91.9" rx="2.5" ry="1.35"/>
<ellipse cx="682.9" cy="95.4" rx="2.5" ry="1.35"/>
<ellipse cx="688.9" cy="98.9" rx="2.5" ry="1.35"/>
<ellipse cx="695.0" cy="102.5" rx="2.5" ry="1.35"/>
<ellipse cx="701.0" cy="106.0" rx="2.5" ry="1.35"/>
<ellipse cx="640.4" cy="63.9" rx="2.5" ry="1.35"/>
<ellipse cx="646.4" cy="67.4" rx="2.5" ry="1.35"/>
<ellipse cx="652.4" cy="71.0" rx="2.5" ry="1.35"/>
<ellipse cx="658.5" cy="74.5" rx="2.5" ry="1.35"/>
<ellipse cx="664.5" cy="78.0" rx="2.5" ry="1.35"/>
<ellipse cx="670.6" cy="81.6" rx="2.5" ry="1.35"/>
<ellipse cx="676.6" cy="85.1" rx="2.5" ry="1.35"/>
<ellipse cx="682.7" cy="88.6" rx="2.5" ry="1.35"/>
<ellipse cx="688.7" cy="92.1" rx="2.5" ry="1.35"/>
<ellipse cx="694.8" cy="95.7" rx="2.5" ry="1.35"/>
<ellipse cx="700.8" cy="99.2" rx="2.5" ry="1.35"/>
<ellipse cx="706.9" cy="102.7" rx="2.5" ry="1.35"/>
<ellipse cx="646.2" cy="60.6" rx="2.5" ry="1.35"/>
<ellipse cx="652.2" cy="64.2" rx="2.5" ry="1.35"/>
<ellipse cx="658.3" cy="67.7" rx="2.5" ry="1.35"/>
<ellipse cx="664.3" cy="71.2" rx="2.5" ry="1.35"/>
<ellipse cx="670.4" cy="74.8" rx="2.5" ry="1.35"/>
<ellipse cx="676.4" cy="78.3" rx="2.5" ry="1.35"/>
<ellipse cx="682.5" cy="81.8" rx="2.5" ry="1.35"/>
<ellipse cx="688.5" cy="85.3" rx="2.5" ry="1.35"/>
<ellipse cx="694.6" cy="88.9" rx="2.5" ry="1.35"/>
<ellipse cx="700.6" cy="92.4" rx="2.5" ry="1.35"/>
<ellipse cx="706.7" cy="95.9" rx="2.5" ry="1.35"/>
<ellipse cx="712.7" cy="99.5" rx="2.5" ry="1.35"/>
<ellipse cx="652.0" cy="57.4" rx="2.5" ry="1.35"/>
<ellipse cx="658.1" cy="60.9" rx="2.5" ry="1.35"/>
<ellipse cx="664.1" cy="64.4" rx="2.5" ry="1.35"/>
<ellipse cx="670.2" cy="68.0" rx="2.5" ry="1.35"/>
<ellipse cx="676.2" cy="71.5" rx="2.5" ry="1.35"/>
<ellipse cx="682.3" cy="75.0" rx="2.5" ry="1.35"/>
<ellipse cx="688.3" cy="78.5" rx="2.5" ry="1.35"/>
<ellipse cx="694.4" cy="82.1" rx="2.5" ry="1.35"/>
<ellipse cx="700.4" cy="85.6" rx="2.5" ry="1.35"/>
<ellipse cx="706.4" cy="89.1" rx="2.5" ry="1.35"/>
<ellipse cx="712.5" cy="92.7" rx="2.5" ry="1.35"/>
<ellipse cx="718.5" cy="96.2" rx="2.5" ry="1.35"/>
<ellipse cx="657.9" cy="54.1" rx="2.5" ry="1.35"/>
<ellipse cx="663.9" cy="57.6" rx="2.5" ry="1.35"/>
<ellipse cx="670.0" cy="61.2" rx="2.5" ry="1.35"/>
<ellipse cx="676.0" cy="64.7" rx="2.5" ry="1.35"/>
<ellipse cx="682.0" cy="68.2" rx="2.5" ry="1.35"/>
<ellipse cx="688.1" cy="71.8" rx="2.5" ry="1.35"/>
<ellipse cx="694.1" cy="75.3" rx="2.5" ry="1.35"/>
<ellipse cx="700.2" cy="78.8" rx="2.5" ry="1.35"/>
<ellipse cx="706.2" cy="82.3" rx="2.5" ry="1.35"/>
<ellipse cx="712.3" cy="85.9" rx="2.5" ry="1.35"/>
<ellipse cx="718.3" cy="89.4" rx="2.5" ry="1.35"/>
<ellipse cx="724.4" cy="92.9" rx="2.5" ry="1.35"/>
<ellipse cx="663.7" cy="50.8" rx="2.5" ry="1.35"/>
<ellipse cx="669.7" cy="54.4" rx="2.5" ry="1.35"/>
<ellipse cx="675.8" cy="57.9" rx="2.5" ry="1.35"/>
<ellipse cx="681.8" cy="61.4" rx="2.5" ry="1.35"/>
<ellipse cx="687.9" cy="65.0" rx="2.5" ry="1.35"/>
<ellipse cx="693.9" cy="68.5" rx="2.5" ry="1.35"/>
<ellipse cx="700.0" cy="72.0" rx="2.5" ry="1.35"/>
<ellipse cx="706.0" cy="75.5" rx="2.5" ry="1.35"/>
<ellipse cx="712.1" cy="79.1" rx="2.5" ry="1.35"/>
<ellipse cx="718.1" cy="82.6" rx="2.5" ry="1.35"/>
<ellipse cx="724.2" cy="86.1" rx="2.5" ry="1.35"/>
<ellipse cx="730.2" cy="89.7" rx="2.5" ry="1.35"/>
<ellipse cx="669.5" cy="47.6" rx="2.5" ry="1.35"/>
<ellipse cx="675.6" cy="51.1" rx="2.5" ry="1.35"/>
<ellipse cx="681.6" cy="54.6" rx="2.5" ry="1.35"/>
<ellipse cx="687.7" cy="58.2" rx="2.5" ry="1.35"/>
<ellipse cx="693.7" cy="61.7" rx="2.5" ry="1.35"/>
<ellipse cx="699.8" cy="65.2" rx="2.5" ry="1.35"/>
<ellipse cx="705.8" cy="68.7" rx="2.5" ry="1.35"/>
<ellipse cx="711.9" cy="72.3" rx="2.5" ry="1.35"/>
<ellipse cx="717.9" cy="75.8" rx="2.5" ry="1.35"/>
<ellipse cx="724.0" cy="79.3" rx="2.5" ry="1.35"/>
<ellipse cx="730.0" cy="82.9" rx="2.5" ry="1.35"/>
<ellipse cx="736.0" cy="86.4" rx="2.5" ry="1.35"/>
<ellipse cx="675.4" cy="44.3" rx="2.5" ry="1.35"/>
<ellipse cx="681.4" cy="47.8" rx="2.5" ry="1.35"/>
<ellipse cx="687.5" cy="51.4" rx="2.5" ry="1.35"/>
<ellipse cx="693.5" cy="54.9" rx="2.5" ry="1.35"/>
<ellipse cx="699.6" cy="58.4" rx="2.5" ry="1.35"/>
<ellipse cx="705.6" cy="62.0" rx="2.5" ry="1.35"/>
<ellipse cx="711.6" cy="65.5" rx="2.5" ry="1.35"/>
<ellipse cx="717.7" cy="69.0" rx="2.5" ry="1.35"/>
<ellipse cx="723.7" cy="72.5" rx="2.5" ry="1.35"/>
<ellipse cx="729.8" cy="76.1" rx="2.5" ry="1.35"/>
<ellipse cx="735.8" cy="79.6" rx="2.5" ry="1.35"/>
<ellipse cx="741.9" cy="83.1" rx="2.5" ry="1.35"/>
  </g>
</g>

<!-- ===== mass spec ===== -->
<g id="ms" stroke-linejoin="round">
  <path d="M616.5,300.5 L690,295.5 L735,299.5 L655,306 Z" fill="#eceef4" stroke="#9ea5b8" stroke-width="0.6"/>
  <path d="M616.5,300.5 L655,306 L655,364.6 L617.5,342.2 Z" fill="#e0e3eb" stroke="#8f96ab" stroke-width="0.7"/>
  <path d="M655,306 L735,299.5 L735,342.5 L655,364.6 Z" fill="#d7dae3" stroke="#8f96ab" stroke-width="0.7"/>
  <path d="M649,305.3 L656,306.2 L656,364 L649.5,360.3 Z" fill="#b4bac9"/>
  <path d="M671.7,249.2 L690,245.6 L690.7,301.7 L672.9,300.6 Z" fill="#a4abbd" stroke="#8a91a6" stroke-width="0.6"/>
  <path d="M690,245.6 L717.6,249.9 L716.2,296.6 L690.7,301.7 Z" fill="#d2d6e0" stroke="#8a91a6" stroke-width="0.6"/>
  <path d="M692.6,249 L715.3,252.4 L714.2,294.6 L693.2,298.6 Z" fill="#78bbef"/>
  <path d="M631,305 L653.5,307.5 L653.5,331 L646,335 L641,336 L641,348.5 L631.5,344 Z" fill="#3f8ed5"/>
  <path d="M635,309 L640,309.6 L640,340 L635,338 Z" fill="#62a8e6"/>
  <path d="M643,310 L651,311 L651,328 L643,330 Z" fill="#7bb8ea"/>
  <path d="M630.5,303 C623,297 624,287 630,286.8 C636,286.6 637,294 636,301" fill="none" stroke="#2f80c8" stroke-width="2"/>
  <rect x="628.5" y="297.5" width="6" height="6" fill="#f2f4f8" stroke="#8a91a6" stroke-width="0.5"/>
  <rect x="658" y="312" width="3.6" height="18" fill="#4d93d4"/>
  <rect x="621" y="309" width="5" height="9.5" fill="#aab1c3" stroke="#7f879d" stroke-width="0.5"/>
  <circle cx="646.8" cy="317.3" r="2" fill="#e8413a"/>
</g>

<!-- ===== callout ===== -->
<path d="M611,137.3 L736.6,137.3 L736.6,152.8 L761.5,152.8 L736.6,176.2 L736.6,198.9 L611,198.9 Z" fill="#fbfcfe" stroke="#8e9bb8" stroke-width="1.1"/>

<!-- ===== right arrow ===== -->
<line x1="763" y1="5.6" x2="763" y2="446" stroke="#1c2552" stroke-width="3.4"/>
<path d="M758,440.8 L763,444 L767.6,440.8 L763.1,452.7 Z" fill="#1c2552"/>
</svg>

<!--TEXT-->
<div class="t b" style="left:70.4px;top:0.7px;font-size:20.2px;line-height:20.2px;transform:scaleX(1.1156);">2005</div>
<div class="t b" style="left:71.0px;top:110.7px;font-size:19.6px;line-height:19.6px;transform:scaleX(1.0074);">Perry et al. (2010)</div>
<div class="t" style="left:71.0px;top:133.6px;font-size:19.5px;line-height:19.5px;transform:scaleX(1.0557);">Temporal regulation of</div>
<div class="t" style="left:71.0px;top:156.3px;font-size:19.5px;line-height:19.5px;transform:scaleX(1.0348);">skeletal muscle mRNA and</div>
<div class="t" style="left:71.0px;top:179.0px;font-size:19.5px;line-height:19.5px;transform:scaleX(1.0400);">protein responses to exercise</div>
<div class="t b" style="left:71.0px;top:220.1px;font-size:19.6px;line-height:19.6px;transform:scaleX(1.0041);">Whitham et al. (2018)</div>
<div class="t" style="left:70.0px;top:243.2px;font-size:19.5px;line-height:19.5px;transform:scaleX(1.0384);">Proteomic analysis of</div>
<div class="t" style="left:71.0px;top:266.3px;font-size:19.5px;line-height:19.5px;transform:scaleX(1.0214);">exercise-released</div>
<div class="t" style="left:71.0px;top:289.1px;font-size:19.5px;line-height:19.5px;transform:scaleX(1.0511);">extracellular vesicles</div>
<div class="t b" style="left:71.0px;top:329.2px;font-size:19.6px;line-height:19.6px;transform:scaleX(1.0172);">Contrepois et al.  (2020)</div>
<div class="t" style="left:71.0px;top:351.6px;font-size:19.5px;line-height:19.5px;transform:scaleX(1.0515);">System-wide, temporal</div>
<div class="t" style="left:71.0px;top:374.4px;font-size:19.5px;line-height:19.5px;transform:scaleX(1.0784);">multi-omics profiling of the</div>
<div class="t" style="left:71.0px;top:397.0px;font-size:19.5px;line-height:19.5px;transform:scaleX(1.0313);">acute exercise response</div>
<div class="t b" style="left:70.4px;top:436.5px;font-size:19.8px;line-height:19.8px;transform:scaleX(1.0773);">2025</div>
<div class="t" style="left:622.1px;top:147.5px;font-size:19.5px;line-height:19.5px;transform:scaleX(1.0326);">Increasing</div>
<div class="t" style="left:623.1px;top:169.4px;font-size:19.5px;line-height:19.5px;transform:scaleX(1.0634);">complexity</div>
<!--/TEXT-->
</body></html>
